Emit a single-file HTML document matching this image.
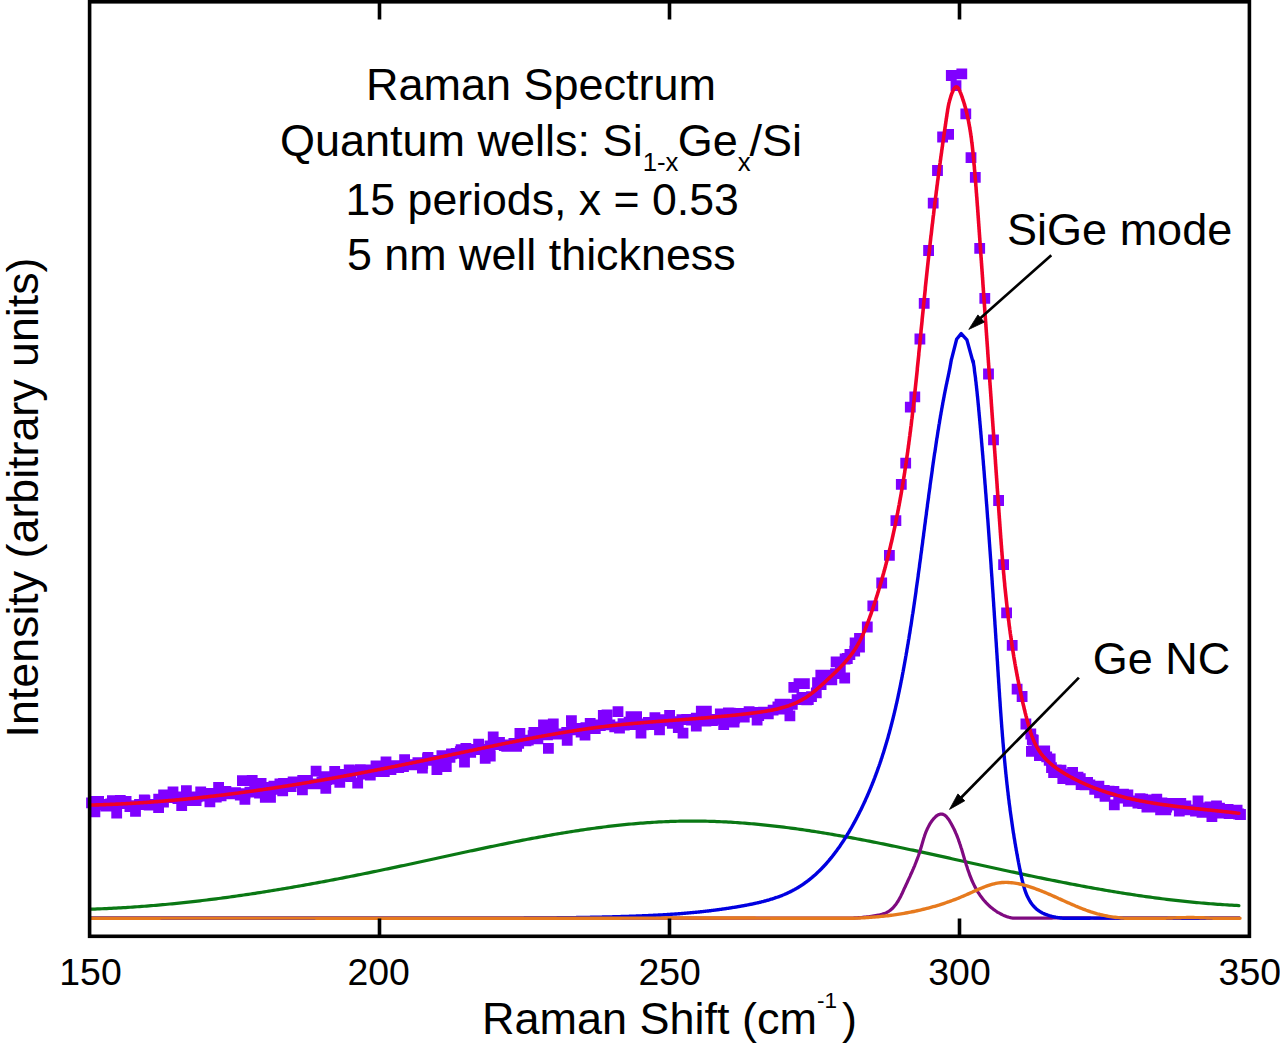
<!DOCTYPE html>
<html><head><meta charset="utf-8"><style>html,body{margin:0;padding:0;background:#fff;overflow:hidden}svg{display:block}</style></head>
<body><svg width="1280" height="1048" viewBox="0 0 1280 1048">
<rect width="1280" height="1048" fill="#fff"/>
<path fill="#8000FF" d="M86.1,797.4h10.8v10.8h-10.8zM89.5,806.5h10.8v10.8h-10.8zM90.9,796.1h10.8v10.8h-10.8zM93.2,795.9h10.8v10.8h-10.8zM95.7,799.1h10.8v10.8h-10.8zM100.5,800.8h10.8v10.8h-10.8zM105.3,798.4h10.8v10.8h-10.8zM107.0,795.2h10.8v10.8h-10.8zM110.1,798.7h10.8v10.8h-10.8zM111.3,807.7h10.8v10.8h-10.8zM114.9,795.1h10.8v10.8h-10.8zM119.7,798.2h10.8v10.8h-10.8zM120.7,795.9h10.8v10.8h-10.8zM124.5,801.1h10.8v10.8h-10.8zM129.3,800.2h10.8v10.8h-10.8zM130.1,805.9h10.8v10.8h-10.8zM134.1,799.1h10.8v10.8h-10.8zM138.9,794.4h10.8v10.8h-10.8zM139.5,795.2h10.8v10.8h-10.8zM143.7,799.6h10.8v10.8h-10.8zM148.5,798.9h10.8v10.8h-10.8zM153.2,802.1h10.8v10.8h-10.8zM153.3,793.7h10.8v10.8h-10.8zM158.1,796.6h10.8v10.8h-10.8zM158.2,789.6h10.8v10.8h-10.8zM162.9,791.9h10.8v10.8h-10.8zM167.6,786.5h10.8v10.8h-10.8zM167.7,792.2h10.8v10.8h-10.8zM172.5,793.1h10.8v10.8h-10.8zM176.3,800.2h10.8v10.8h-10.8zM177.3,791.6h10.8v10.8h-10.8zM181.0,785.2h10.8v10.8h-10.8zM182.1,795.3h10.8v10.8h-10.8zM186.9,795.2h10.8v10.8h-10.8zM190.7,795.2h10.8v10.8h-10.8zM191.7,791.4h10.8v10.8h-10.8zM195.3,786.5h10.8v10.8h-10.8zM196.5,790.7h10.8v10.8h-10.8zM201.3,788.7h10.8v10.8h-10.8zM204.5,796.5h10.8v10.8h-10.8zM206.1,788.0h10.8v10.8h-10.8zM210.9,791.8h10.8v10.8h-10.8zM213.2,782.1h10.8v10.8h-10.8zM215.7,790.5h10.8v10.8h-10.8zM220.5,786.1h10.8v10.8h-10.8zM225.3,788.4h10.8v10.8h-10.8zM230.1,787.3h10.8v10.8h-10.8zM234.9,789.8h10.8v10.8h-10.8zM237.0,775.2h10.8v10.8h-10.8zM239.5,794.0h10.8v10.8h-10.8zM239.7,788.2h10.8v10.8h-10.8zM244.5,786.7h10.8v10.8h-10.8zM246.8,775.1h10.8v10.8h-10.8zM249.3,785.7h10.8v10.8h-10.8zM254.1,787.8h10.8v10.8h-10.8zM255.7,777.9h10.8v10.8h-10.8zM258.9,787.4h10.8v10.8h-10.8zM259.9,791.9h10.8v10.8h-10.8zM263.7,782.1h10.8v10.8h-10.8zM265.1,791.9h10.8v10.8h-10.8zM268.5,780.7h10.8v10.8h-10.8zM269.0,781.6h10.8v10.8h-10.8zM273.3,783.9h10.8v10.8h-10.8zM274.5,778.4h10.8v10.8h-10.8zM277.3,785.4h10.8v10.8h-10.8zM278.1,778.0h10.8v10.8h-10.8zM282.9,779.3h10.8v10.8h-10.8zM285.7,781.2h10.8v10.8h-10.8zM287.7,776.5h10.8v10.8h-10.8zM292.5,777.5h10.8v10.8h-10.8zM297.0,784.4h10.8v10.8h-10.8zM297.3,774.9h10.8v10.8h-10.8zM301.6,775.1h10.8v10.8h-10.8zM302.1,775.7h10.8v10.8h-10.8zM306.9,778.4h10.8v10.8h-10.8zM310.7,765.7h10.8v10.8h-10.8zM311.7,778.4h10.8v10.8h-10.8zM316.5,776.7h10.8v10.8h-10.8zM318.5,771.3h10.8v10.8h-10.8zM320.4,783.0h10.8v10.8h-10.8zM321.3,774.3h10.8v10.8h-10.8zM326.1,773.8h10.8v10.8h-10.8zM329.3,766.0h10.8v10.8h-10.8zM330.9,771.2h10.8v10.8h-10.8zM334.4,776.9h10.8v10.8h-10.8zM335.7,768.9h10.8v10.8h-10.8zM340.5,769.9h10.8v10.8h-10.8zM343.8,764.5h10.8v10.8h-10.8zM345.3,771.1h10.8v10.8h-10.8zM350.1,765.5h10.8v10.8h-10.8zM352.3,777.6h10.8v10.8h-10.8zM354.9,764.3h10.8v10.8h-10.8zM357.0,767.6h10.8v10.8h-10.8zM359.7,768.7h10.8v10.8h-10.8zM364.5,764.5h10.8v10.8h-10.8zM364.9,769.7h10.8v10.8h-10.8zM369.3,766.3h10.8v10.8h-10.8zM370.6,760.4h10.8v10.8h-10.8zM374.1,765.6h10.8v10.8h-10.8zM375.7,766.0h10.8v10.8h-10.8zM378.9,766.1h10.8v10.8h-10.8zM380.6,756.6h10.8v10.8h-10.8zM383.7,761.4h10.8v10.8h-10.8zM385.6,764.1h10.8v10.8h-10.8zM388.5,760.2h10.8v10.8h-10.8zM393.3,762.3h10.8v10.8h-10.8zM398.1,761.1h10.8v10.8h-10.8zM399.2,754.3h10.8v10.8h-10.8zM402.9,759.3h10.8v10.8h-10.8zM407.7,759.5h10.8v10.8h-10.8zM412.5,757.3h10.8v10.8h-10.8zM417.0,762.7h10.8v10.8h-10.8zM417.3,758.5h10.8v10.8h-10.8zM422.1,753.2h10.8v10.8h-10.8zM422.6,751.9h10.8v10.8h-10.8zM426.9,755.0h10.8v10.8h-10.8zM431.5,764.1h10.8v10.8h-10.8zM431.7,755.5h10.8v10.8h-10.8zM436.5,750.2h10.8v10.8h-10.8zM440.9,761.3h10.8v10.8h-10.8zM441.3,751.1h10.8v10.8h-10.8zM444.6,751.9h10.8v10.8h-10.8zM446.1,748.4h10.8v10.8h-10.8zM450.9,748.0h10.8v10.8h-10.8zM454.9,746.3h10.8v10.8h-10.8zM455.7,744.3h10.8v10.8h-10.8zM459.1,756.6h10.8v10.8h-10.8zM460.5,742.9h10.8v10.8h-10.8zM465.3,747.0h10.8v10.8h-10.8zM470.1,743.9h10.8v10.8h-10.8zM473.2,738.8h10.8v10.8h-10.8zM474.9,744.1h10.8v10.8h-10.8zM479.7,743.9h10.8v10.8h-10.8zM479.8,752.9h10.8v10.8h-10.8zM484.5,740.6h10.8v10.8h-10.8zM484.9,750.6h10.8v10.8h-10.8zM487.8,731.6h10.8v10.8h-10.8zM489.3,739.2h10.8v10.8h-10.8zM494.1,736.9h10.8v10.8h-10.8zM498.9,740.3h10.8v10.8h-10.8zM501.3,741.0h10.8v10.8h-10.8zM503.7,739.5h10.8v10.8h-10.8zM508.5,737.9h10.8v10.8h-10.8zM511.2,741.0h10.8v10.8h-10.8zM513.3,737.9h10.8v10.8h-10.8zM514.5,727.9h10.8v10.8h-10.8zM518.1,735.4h10.8v10.8h-10.8zM520.6,735.4h10.8v10.8h-10.8zM522.9,734.8h10.8v10.8h-10.8zM527.7,730.3h10.8v10.8h-10.8zM528.5,726.9h10.8v10.8h-10.8zM532.5,733.5h10.8v10.8h-10.8zM537.3,729.5h10.8v10.8h-10.8zM538.1,719.4h10.8v10.8h-10.8zM542.1,729.4h10.8v10.8h-10.8zM543.0,742.9h10.8v10.8h-10.8zM546.9,727.7h10.8v10.8h-10.8zM547.9,718.5h10.8v10.8h-10.8zM551.7,728.6h10.8v10.8h-10.8zM556.5,728.4h10.8v10.8h-10.8zM561.3,727.1h10.8v10.8h-10.8zM561.8,734.9h10.8v10.8h-10.8zM566.0,715.2h10.8v10.8h-10.8zM566.1,724.5h10.8v10.8h-10.8zM570.9,723.0h10.8v10.8h-10.8zM575.7,726.7h10.8v10.8h-10.8zM579.6,729.7h10.8v10.8h-10.8zM580.5,722.2h10.8v10.8h-10.8zM584.8,718.0h10.8v10.8h-10.8zM585.3,722.5h10.8v10.8h-10.8zM589.9,723.2h10.8v10.8h-10.8zM590.1,719.4h10.8v10.8h-10.8zM594.9,720.2h10.8v10.8h-10.8zM597.9,710.1h10.8v10.8h-10.8zM599.7,718.1h10.8v10.8h-10.8zM601.6,709.4h10.8v10.8h-10.8zM604.5,719.4h10.8v10.8h-10.8zM609.3,721.4h10.8v10.8h-10.8zM612.6,706.2h10.8v10.8h-10.8zM614.1,722.7h10.8v10.8h-10.8zM617.6,718.3h10.8v10.8h-10.8zM618.9,719.8h10.8v10.8h-10.8zM623.7,716.8h10.8v10.8h-10.8zM625.6,711.3h10.8v10.8h-10.8zM628.5,719.1h10.8v10.8h-10.8zM631.2,711.3h10.8v10.8h-10.8zM633.3,718.5h10.8v10.8h-10.8zM635.6,727.7h10.8v10.8h-10.8zM638.1,719.5h10.8v10.8h-10.8zM642.9,717.0h10.8v10.8h-10.8zM647.7,719.3h10.8v10.8h-10.8zM649.5,712.2h10.8v10.8h-10.8zM652.5,715.4h10.8v10.8h-10.8zM654.1,724.4h10.8v10.8h-10.8zM657.3,714.2h10.8v10.8h-10.8zM662.1,715.4h10.8v10.8h-10.8zM664.2,709.9h10.8v10.8h-10.8zM666.9,717.9h10.8v10.8h-10.8zM671.7,716.2h10.8v10.8h-10.8zM672.9,722.1h10.8v10.8h-10.8zM676.5,714.2h10.8v10.8h-10.8zM677.6,727.7h10.8v10.8h-10.8zM681.3,713.9h10.8v10.8h-10.8zM686.1,714.6h10.8v10.8h-10.8zM686.5,714.6h10.8v10.8h-10.8zM690.9,712.8h10.8v10.8h-10.8zM690.9,720.7h10.8v10.8h-10.8zM695.7,713.1h10.8v10.8h-10.8zM695.9,705.7h10.8v10.8h-10.8zM700.5,715.7h10.8v10.8h-10.8zM701.0,705.7h10.8v10.8h-10.8zM705.3,715.0h10.8v10.8h-10.8zM707.1,715.1h10.8v10.8h-10.8zM710.1,714.0h10.8v10.8h-10.8zM714.9,708.6h10.8v10.8h-10.8zM718.3,719.3h10.8v10.8h-10.8zM719.7,711.1h10.8v10.8h-10.8zM723.0,707.6h10.8v10.8h-10.8zM724.5,709.3h10.8v10.8h-10.8zM724.9,707.7h10.8v10.8h-10.8zM728.7,716.6h10.8v10.8h-10.8zM729.3,712.6h10.8v10.8h-10.8zM734.1,707.9h10.8v10.8h-10.8zM738.9,711.7h10.8v10.8h-10.8zM743.7,706.3h10.8v10.8h-10.8zM748.5,707.0h10.8v10.8h-10.8zM751.7,714.7h10.8v10.8h-10.8zM753.3,710.1h10.8v10.8h-10.8zM756.3,707.2h10.8v10.8h-10.8zM758.1,706.8h10.8v10.8h-10.8zM762.9,708.4h10.8v10.8h-10.8zM767.7,704.7h10.8v10.8h-10.8zM772.5,701.5h10.8v10.8h-10.8zM774.6,698.8h10.8v10.8h-10.8zM777.3,703.6h10.8v10.8h-10.8zM779.3,698.8h10.8v10.8h-10.8zM782.1,700.8h10.8v10.8h-10.8zM784.5,710.5h10.8v10.8h-10.8zM786.9,699.0h10.8v10.8h-10.8zM788.4,681.9h10.8v10.8h-10.8zM791.7,694.3h10.8v10.8h-10.8zM793.6,678.2h10.8v10.8h-10.8zM796.5,691.9h10.8v10.8h-10.8zM799.0,678.2h10.8v10.8h-10.8zM801.3,694.5h10.8v10.8h-10.8zM802.9,694.1h10.8v10.8h-10.8zM806.1,691.3h10.8v10.8h-10.8zM810.9,687.5h10.8v10.8h-10.8zM812.1,677.3h10.8v10.8h-10.8zM815.4,669.8h10.8v10.8h-10.8zM815.7,679.1h10.8v10.8h-10.8zM820.5,672.5h10.8v10.8h-10.8zM821.0,669.8h10.8v10.8h-10.8zM825.3,671.6h10.8v10.8h-10.8zM826.4,674.4h10.8v10.8h-10.8zM830.1,668.3h10.8v10.8h-10.8zM830.7,656.5h10.8v10.8h-10.8zM834.9,662.9h10.8v10.8h-10.8zM839.3,672.6h10.8v10.8h-10.8zM839.7,653.6h10.8v10.8h-10.8zM841.9,653.1h10.8v10.8h-10.8zM844.5,649.1h10.8v10.8h-10.8zM849.3,645.8h10.8v10.8h-10.8zM849.7,637.4h10.8v10.8h-10.8zM854.1,633.1h10.8v10.8h-10.8zM854.1,641.7h10.8v10.8h-10.8zM861.9,621.6h10.8v10.8h-10.8zM867.4,600.5h10.8v10.8h-10.8zM876.3,577.6h10.8v10.8h-10.8zM884.0,549.9h10.8v10.8h-10.8zM890.5,515.2h10.8v10.8h-10.8zM895.9,478.9h10.8v10.8h-10.8zM900.3,457.7h10.8v10.8h-10.8zM904.9,401.7h10.8v10.8h-10.8zM909.4,391.4h10.8v10.8h-10.8zM914.5,333.6h10.8v10.8h-10.8zM918.8,297.9h10.8v10.8h-10.8zM923.2,245.1h10.8v10.8h-10.8zM927.8,197.7h10.8v10.8h-10.8zM932.1,165.1h10.8v10.8h-10.8zM937.2,131.6h10.8v10.8h-10.8zM943.2,129.0h10.8v10.8h-10.8zM945.9,70.1h10.8v10.8h-10.8zM950.6,80.3h10.8v10.8h-10.8zM956.4,68.4h10.8v10.8h-10.8zM960.4,108.4h10.8v10.8h-10.8zM965.6,152.2h10.8v10.8h-10.8zM969.9,172.0h10.8v10.8h-10.8zM974.3,243.0h10.8v10.8h-10.8zM979.4,292.9h10.8v10.8h-10.8zM983.1,368.6h10.8v10.8h-10.8zM988.1,434.5h10.8v10.8h-10.8zM993.2,495.1h10.8v10.8h-10.8zM998.2,559.2h10.8v10.8h-10.8zM1001.2,607.4h10.8v10.8h-10.8zM1006.8,639.9h10.8v10.8h-10.8zM1011.7,683.8h10.8v10.8h-10.8zM1016.7,691.1h10.8v10.8h-10.8zM1020.5,718.6h10.8v10.8h-10.8zM1025.4,728.6h10.8v10.8h-10.8zM1026.0,746.0h10.8v10.8h-10.8zM1026.9,734.2h10.8v10.8h-10.8zM1027.9,734.8h10.8v10.8h-10.8zM1031.7,745.6h10.8v10.8h-10.8zM1034.0,750.2h10.8v10.8h-10.8zM1036.5,747.5h10.8v10.8h-10.8zM1039.3,745.5h10.8v10.8h-10.8zM1041.3,751.5h10.8v10.8h-10.8zM1043.8,754.9h10.8v10.8h-10.8zM1044.8,753.5h10.8v10.8h-10.8zM1046.1,762.3h10.8v10.8h-10.8zM1048.2,767.1h10.8v10.8h-10.8zM1050.9,764.5h10.8v10.8h-10.8zM1055.5,764.7h10.8v10.8h-10.8zM1055.7,765.6h10.8v10.8h-10.8zM1057.4,773.2h10.8v10.8h-10.8zM1060.5,768.7h10.8v10.8h-10.8zM1065.3,774.5h10.8v10.8h-10.8zM1067.2,767.1h10.8v10.8h-10.8zM1070.1,773.1h10.8v10.8h-10.8zM1072.6,771.8h10.8v10.8h-10.8zM1074.9,773.3h10.8v10.8h-10.8zM1075.7,779.3h10.8v10.8h-10.8zM1079.7,779.5h10.8v10.8h-10.8zM1082.2,776.9h10.8v10.8h-10.8zM1084.5,779.4h10.8v10.8h-10.8zM1089.3,783.9h10.8v10.8h-10.8zM1093.5,780.7h10.8v10.8h-10.8zM1094.1,787.5h10.8v10.8h-10.8zM1098.9,785.1h10.8v10.8h-10.8zM1099.6,791.0h10.8v10.8h-10.8zM1103.7,785.8h10.8v10.8h-10.8zM1104.7,786.3h10.8v10.8h-10.8zM1108.5,785.9h10.8v10.8h-10.8zM1108.9,799.4h10.8v10.8h-10.8zM1113.3,792.7h10.8v10.8h-10.8zM1118.1,788.7h10.8v10.8h-10.8zM1122.5,789.6h10.8v10.8h-10.8zM1122.9,796.0h10.8v10.8h-10.8zM1123.0,795.7h10.8v10.8h-10.8zM1127.7,795.4h10.8v10.8h-10.8zM1132.5,797.8h10.8v10.8h-10.8zM1134.7,793.3h10.8v10.8h-10.8zM1137.2,793.7h10.8v10.8h-10.8zM1137.3,798.1h10.8v10.8h-10.8zM1141.5,801.8h10.8v10.8h-10.8zM1142.1,794.6h10.8v10.8h-10.8zM1146.9,795.3h10.8v10.8h-10.8zM1151.4,793.7h10.8v10.8h-10.8zM1151.7,801.6h10.8v10.8h-10.8zM1155.2,804.4h10.8v10.8h-10.8zM1156.5,797.6h10.8v10.8h-10.8zM1160.4,804.4h10.8v10.8h-10.8zM1161.3,801.8h10.8v10.8h-10.8zM1164.7,798.0h10.8v10.8h-10.8zM1166.1,798.1h10.8v10.8h-10.8zM1170.9,799.6h10.8v10.8h-10.8zM1173.9,805.7h10.8v10.8h-10.8zM1175.4,798.0h10.8v10.8h-10.8zM1175.7,802.8h10.8v10.8h-10.8zM1180.5,800.4h10.8v10.8h-10.8zM1183.6,804.4h10.8v10.8h-10.8zM1185.3,804.4h10.8v10.8h-10.8zM1190.1,805.8h10.8v10.8h-10.8zM1192.6,795.4h10.8v10.8h-10.8zM1194.9,802.4h10.8v10.8h-10.8zM1196.6,807.0h10.8v10.8h-10.8zM1199.7,802.8h10.8v10.8h-10.8zM1204.5,801.4h10.8v10.8h-10.8zM1206.5,811.3h10.8v10.8h-10.8zM1209.3,804.6h10.8v10.8h-10.8zM1211.1,800.5h10.8v10.8h-10.8zM1214.1,802.7h10.8v10.8h-10.8zM1216.2,807.8h10.8v10.8h-10.8zM1218.9,806.7h10.8v10.8h-10.8zM1222.7,804.0h10.8v10.8h-10.8zM1223.7,808.1h10.8v10.8h-10.8zM1228.5,807.8h10.8v10.8h-10.8zM1231.7,804.8h10.8v10.8h-10.8zM1233.3,808.6h10.8v10.8h-10.8zM1235.1,809.1h10.8v10.8h-10.8z"/>
<path d="M90.4,805.07 L91.3,805.05 L92.3,805.02 L93.2,805.00 L94.2,804.97 L95.1,804.94 L96.1,804.92 L97.0,804.89 L97.9,804.86 L98.9,804.83 L99.8,804.80 L100.8,804.77 L101.7,804.74 L102.7,804.70 L103.6,804.67 L104.6,804.64 L105.5,804.60 L106.4,804.56 L107.4,804.53 L108.3,804.49 L109.3,804.45 L110.2,804.41 L111.2,804.38 L112.1,804.34 L113.0,804.29 L114.0,804.25 L114.9,804.21 L115.9,804.17 L116.8,804.12 L117.8,804.08 L118.7,804.03 L119.6,803.99 L120.6,803.94 L121.5,803.89 L122.5,803.85 L123.4,803.80 L124.4,803.75 L125.3,803.70 L126.2,803.65 L127.2,803.60 L128.1,803.54 L129.1,803.49 L130.0,803.44 L130.9,803.38 L131.9,803.33 L132.8,803.27 L133.8,803.22 L134.7,803.16 L135.7,803.10 L136.6,803.04 L137.5,802.98 L138.5,802.92 L139.4,802.86 L140.4,802.80 L141.3,802.74 L142.2,802.68 L143.2,802.62 L144.1,802.55 L145.1,802.49 L146.0,802.42 L146.9,802.36 L147.9,802.29 L148.8,802.22 L149.8,802.16 L150.7,802.09 L151.6,802.02 L152.6,801.95 L153.5,801.88 L154.4,801.81 L155.4,801.74 L156.3,801.66 L157.3,801.59 L158.2,801.52 L159.1,801.44 L160.1,801.37 L161.0,801.29 L162.0,801.22 L162.9,801.14 L163.8,801.06 L164.8,800.98 L165.7,800.90 L166.6,800.82 L167.6,800.74 L168.5,800.66 L169.5,800.58 L170.4,800.50 L171.3,800.42 L172.3,800.34 L173.2,800.25 L174.1,800.17 L175.1,800.08 L176.0,800.00 L177.0,799.91 L177.9,799.82 L178.8,799.74 L179.8,799.65 L180.7,799.56 L181.6,799.47 L182.6,799.38 L183.5,799.29 L184.4,799.20 L185.4,799.11 L186.3,799.02 L187.2,798.92 L188.2,798.83 L189.1,798.74 L190.1,798.64 L191.0,798.55 L191.9,798.45 L192.9,798.35 L193.8,798.26 L194.7,798.16 L195.7,798.06 L196.6,797.96 L197.5,797.86 L198.5,797.76 L199.4,797.66 L200.3,797.56 L201.3,797.46 L202.2,797.36 L203.1,797.26 L204.1,797.15 L205.0,797.05 L205.9,796.94 L206.9,796.84 L207.8,796.73 L208.7,796.63 L209.7,796.52 L210.6,796.41 L211.5,796.31 L212.5,796.20 L213.4,796.09 L214.3,795.98 L215.3,795.87 L216.2,795.76 L217.1,795.65 L218.1,795.54 L219.0,795.43 L219.9,795.31 L220.9,795.20 L221.8,795.09 L222.7,794.97 L223.7,794.86 L224.6,794.74 L225.5,794.63 L226.5,794.51 L227.4,794.39 L228.3,794.28 L229.3,794.16 L230.2,794.04 L231.1,793.92 L232.1,793.80 L233.0,793.68 L233.9,793.56 L234.9,793.44 L235.8,793.32 L236.7,793.20 L237.7,793.08 L238.6,792.95 L239.5,792.83 L240.4,792.71 L241.4,792.58 L242.3,792.46 L243.2,792.33 L244.2,792.20 L245.1,792.08 L246.0,791.95 L247.0,791.82 L247.9,791.70 L248.8,791.57 L249.8,791.44 L250.7,791.31 L251.6,791.18 L252.5,791.05 L253.5,790.92 L254.4,790.79 L255.3,790.66 L256.3,790.52 L257.2,790.39 L258.1,790.26 L259.1,790.12 L260.0,789.99 L260.9,789.86 L261.8,789.72 L262.8,789.59 L263.7,789.45 L264.6,789.31 L265.6,789.18 L266.5,789.04 L267.4,788.90 L268.3,788.76 L269.3,788.63 L270.2,788.49 L271.1,788.35 L272.1,788.21 L273.0,788.07 L273.9,787.93 L274.8,787.78 L275.8,787.64 L276.7,787.50 L277.6,787.36 L278.6,787.22 L279.5,787.07 L280.4,786.93 L281.3,786.78 L282.3,786.64 L283.2,786.49 L284.1,786.35 L285.1,786.20 L286.0,786.06 L286.9,785.91 L287.8,785.76 L288.8,785.61 L289.7,785.47 L290.6,785.32 L291.6,785.17 L292.5,785.02 L293.4,784.87 L294.3,784.72 L295.3,784.57 L296.2,784.42 L297.1,784.27 L298.0,784.12 L299.0,783.96 L299.9,783.81 L300.8,783.66 L301.8,783.51 L302.7,783.35 L303.6,783.20 L304.5,783.04 L305.5,782.89 L306.4,782.73 L307.3,782.58 L308.2,782.42 L309.2,782.27 L310.1,782.11 L311.0,781.95 L312.0,781.79 L312.9,781.64 L313.8,781.48 L314.7,781.32 L315.7,781.16 L316.6,781.00 L317.5,780.84 L318.4,780.68 L319.4,780.52 L320.3,780.36 L321.2,780.20 L322.1,780.04 L323.1,779.88 L324.0,779.71 L324.9,779.55 L325.8,779.39 L326.8,779.23 L327.7,779.06 L328.6,778.90 L329.5,778.73 L330.5,778.57 L331.4,778.41 L332.3,778.24 L333.2,778.07 L334.2,777.91 L335.1,777.74 L336.0,777.58 L336.9,777.41 L337.9,777.24 L338.8,777.07 L339.7,776.91 L340.6,776.74 L341.6,776.57 L342.5,776.40 L343.4,776.23 L344.3,776.06 L345.3,775.89 L346.2,775.72 L347.1,775.55 L348.0,775.38 L349.0,775.21 L349.9,775.04 L350.8,774.87 L351.7,774.70 L352.7,774.52 L353.6,774.35 L354.5,774.18 L355.4,774.01 L356.4,773.83 L357.3,773.66 L358.2,773.48 L359.1,773.31 L360.1,773.14 L361.0,772.96 L361.9,772.79 L362.8,772.61 L363.8,772.43 L364.7,772.26 L365.6,772.08 L366.5,771.91 L367.5,771.73 L368.4,771.55 L369.3,771.37 L370.2,771.20 L371.2,771.02 L372.1,770.84 L373.0,770.66 L373.9,770.48 L374.8,770.31 L375.8,770.13 L376.7,769.95 L377.6,769.77 L378.5,769.59 L379.5,769.41 L380.4,769.23 L381.3,769.05 L382.2,768.86 L383.2,768.68 L384.1,768.50 L385.0,768.32 L385.9,768.14 L386.8,767.96 L387.8,767.77 L388.7,767.59 L389.6,767.41 L390.5,767.23 L391.5,767.04 L392.4,766.86 L393.3,766.67 L394.2,766.49 L395.2,766.31 L396.1,766.12 L397.0,765.94 L397.9,765.75 L398.8,765.57 L399.8,765.38 L400.7,765.20 L401.6,765.01 L402.5,764.83 L403.5,764.64 L404.4,764.45 L405.3,764.27 L406.2,764.08 L407.2,763.89 L408.1,763.71 L409.0,763.52 L409.9,763.33 L410.8,763.14 L411.8,762.95 L412.7,762.77 L413.6,762.58 L414.5,762.39 L415.5,762.20 L416.4,762.01 L417.3,761.82 L418.2,761.63 L419.1,761.44 L420.1,761.25 L421.0,761.06 L421.9,760.87 L422.8,760.68 L423.8,760.49 L424.7,760.30 L425.6,760.11 L426.5,759.92 L427.4,759.73 L428.4,759.54 L429.3,759.35 L430.2,759.16 L431.1,758.97 L432.1,758.77 L433.0,758.58 L433.9,758.39 L434.8,758.20 L435.7,758.00 L436.7,757.81 L437.6,757.62 L438.5,757.43 L439.4,757.23 L440.4,757.04 L441.3,756.85 L442.2,756.65 L443.1,756.46 L444.0,756.27 L445.0,756.07 L445.9,755.88 L446.8,755.68 L447.7,755.49 L448.6,755.30 L449.6,755.10 L450.5,754.91 L451.4,754.71 L452.3,754.52 L453.3,754.32 L454.2,754.13 L455.1,753.93 L456.0,753.74 L456.9,753.54 L457.9,753.35 L458.8,753.15 L459.7,752.96 L460.6,752.76 L461.6,752.56 L462.5,752.37 L463.4,752.17 L464.3,751.98 L465.2,751.78 L466.2,751.59 L467.1,751.39 L468.0,751.20 L468.9,751.00 L469.8,750.81 L470.8,750.61 L471.7,750.41 L472.6,750.22 L473.5,750.02 L474.5,749.83 L475.4,749.63 L476.3,749.44 L477.2,749.24 L478.1,749.05 L479.1,748.85 L480.0,748.66 L480.9,748.47 L481.8,748.27 L482.8,748.08 L483.7,747.88 L484.6,747.69 L485.5,747.50 L486.4,747.30 L487.4,747.11 L488.3,746.92 L489.2,746.72 L490.1,746.53 L491.0,746.34 L492.0,746.14 L492.9,745.95 L493.8,745.76 L494.7,745.57 L495.7,745.38 L496.6,745.19 L497.5,745.00 L498.4,744.80 L499.3,744.61 L500.3,744.42 L501.2,744.23 L502.1,744.04 L503.0,743.85 L504.0,743.67 L504.9,743.48 L505.8,743.29 L506.7,743.10 L507.7,742.91 L508.6,742.72 L509.5,742.54 L510.4,742.35 L511.3,742.16 L512.3,741.98 L513.2,741.79 L514.1,741.61 L515.0,741.42 L516.0,741.24 L516.9,741.05 L517.8,740.87 L518.7,740.69 L519.6,740.50 L520.6,740.32 L521.5,740.14 L522.4,739.96 L523.3,739.78 L524.3,739.60 L525.2,739.42 L526.1,739.24 L527.0,739.06 L528.0,738.88 L528.9,738.70 L529.8,738.52 L530.7,738.34 L531.7,738.17 L532.6,737.99 L533.5,737.82 L534.4,737.64 L535.4,737.47 L536.3,737.29 L537.2,737.12 L538.1,736.95 L539.1,736.77 L540.0,736.60 L540.9,736.43 L541.8,736.26 L542.7,736.09 L543.7,735.92 L544.6,735.75 L545.5,735.58 L546.4,735.42 L547.4,735.25 L548.3,735.08 L549.2,734.92 L550.2,734.75 L551.1,734.59 L552.0,734.42 L552.9,734.26 L553.9,734.10 L554.8,733.94 L555.7,733.78 L556.6,733.62 L557.6,733.46 L558.5,733.30 L559.4,733.14 L560.3,732.98 L561.3,732.83 L562.2,732.67 L563.1,732.52 L564.0,732.36 L565.0,732.21 L565.9,732.06 L566.8,731.90 L567.7,731.75 L568.7,731.60 L569.6,731.45 L570.5,731.30 L571.5,731.16 L572.4,731.01 L573.3,730.86 L574.2,730.72 L575.2,730.57 L576.1,730.43 L577.0,730.29 L578.0,730.14 L578.9,730.00 L579.8,729.86 L580.7,729.72 L581.7,729.59 L582.6,729.45 L583.5,729.31 L584.5,729.18 L585.4,729.04 L586.3,728.91 L587.2,728.77 L588.2,728.64 L589.1,728.51 L590.0,728.38 L591.0,728.25 L591.9,728.13 L592.8,728.00 L593.7,727.87 L594.7,727.75 L595.6,727.62 L596.5,727.50 L597.5,727.38 L598.4,727.26 L599.3,727.14 L600.3,727.02 L601.2,726.90 L602.1,726.78 L603.1,726.67 L604.0,726.55 L604.9,726.44 L605.8,726.33 L606.8,726.22 L607.7,726.11 L608.6,726.00 L609.6,725.89 L610.5,725.78 L611.4,725.68 L612.4,725.57 L613.3,725.47 L614.2,725.37 L615.2,725.26 L616.1,725.16 L617.0,725.06 L618.0,724.96 L618.9,724.87 L619.8,724.77 L620.8,724.67 L621.7,724.58 L622.6,724.48 L623.6,724.39 L624.5,724.30 L625.4,724.21 L626.4,724.12 L627.3,724.03 L628.2,723.94 L629.2,723.85 L630.1,723.76 L631.0,723.67 L632.0,723.59 L632.9,723.50 L633.8,723.42 L634.8,723.33 L635.7,723.25 L636.7,723.17 L637.6,723.09 L638.5,723.00 L639.5,722.92 L640.4,722.84 L641.3,722.76 L642.3,722.68 L643.2,722.60 L644.1,722.53 L645.1,722.45 L646.0,722.37 L646.9,722.30 L647.9,722.22 L648.8,722.14 L649.8,722.07 L650.7,721.99 L651.6,721.92 L652.6,721.85 L653.5,721.77 L654.4,721.70 L655.4,721.63 L656.3,721.55 L657.3,721.48 L658.2,721.41 L659.1,721.34 L660.1,721.27 L661.0,721.20 L661.9,721.12 L662.9,721.05 L663.8,720.98 L664.8,720.91 L665.7,720.84 L666.6,720.77 L667.6,720.70 L668.5,720.63 L669.4,720.56 L670.4,720.50 L671.3,720.43 L672.3,720.36 L673.2,720.29 L674.1,720.22 L675.1,720.15 L676.0,720.08 L677.0,720.01 L677.9,719.94 L678.8,719.87 L679.8,719.80 L680.7,719.74 L681.6,719.67 L682.6,719.60 L683.5,719.53 L684.5,719.46 L685.4,719.39 L686.3,719.32 L687.3,719.25 L688.2,719.18 L689.2,719.11 L690.1,719.04 L691.0,718.97 L692.0,718.89 L692.9,718.82 L693.9,718.75 L694.8,718.68 L695.7,718.61 L696.7,718.54 L697.6,718.46 L698.6,718.39 L699.5,718.32 L700.4,718.24 L701.4,718.17 L702.3,718.09 L703.3,718.02 L704.2,717.94 L705.1,717.86 L706.1,717.79 L707.0,717.71 L708.0,717.63 L708.9,717.56 L709.8,717.48 L710.8,717.40 L711.7,717.32 L712.7,717.24 L713.6,717.16 L714.5,717.07 L715.5,716.99 L716.4,716.91 L717.4,716.83 L718.3,716.74 L719.2,716.66 L720.2,716.57 L721.1,716.49 L722.1,716.40 L723.0,716.31 L723.9,716.22 L724.9,716.13 L725.8,716.04 L726.8,715.95 L727.7,715.86 L728.6,715.77 L729.6,715.67 L730.5,715.58 L731.5,715.48 L732.4,715.39 L733.4,715.29 L734.3,715.19 L735.2,715.09 L736.2,714.99 L737.1,714.89 L738.1,714.79 L739.0,714.69 L739.9,714.58 L740.9,714.48 L741.8,714.37 L742.8,714.27 L743.7,714.16 L744.6,714.05 L745.6,713.94 L746.5,713.83 L747.5,713.71 L748.4,713.60 L749.3,713.49 L750.3,713.37 L751.2,713.25 L752.2,713.13 L753.1,713.01 L754.0,712.89 L755.0,712.77 L755.9,712.65 L756.9,712.52 L757.8,712.39 L758.7,712.26 L759.7,712.13 L760.6,711.99 L761.6,711.86 L762.5,711.72 L763.4,711.57 L764.4,711.43 L765.3,711.28 L766.2,711.12 L767.2,710.97 L768.1,710.81 L769.0,710.64 L769.9,710.47 L770.9,710.30 L771.8,710.12 L772.7,709.94 L773.6,709.75 L774.5,709.55 L775.5,709.36 L776.4,709.15 L777.3,708.94 L778.2,708.73 L779.1,708.50 L780.0,708.28 L780.9,708.04 L781.8,707.80 L782.7,707.55 L783.6,707.30 L784.5,707.04 L785.4,706.77 L786.2,706.49 L787.1,706.21 L788.0,705.92 L788.9,705.62 L789.7,705.31 L790.6,704.99 L791.5,704.67 L792.3,704.34 L793.2,704.00 L794.0,703.64 L794.9,703.28 L795.7,702.91 L796.6,702.54 L797.4,702.15 L798.2,701.75 L799.0,701.34 L799.9,700.92 L800.7,700.49 L801.5,700.05 L802.3,699.60 L803.1,699.14 L803.9,698.66 L804.7,698.18 L805.5,697.69 L806.3,697.18 L807.0,696.67 L807.8,696.14 L808.6,695.61 L809.3,695.07 L810.1,694.52 L810.9,693.96 L811.6,693.40 L812.4,692.82 L813.1,692.24 L813.8,691.66 L814.6,691.06 L815.3,690.46 L816.1,689.86 L816.8,689.24 L817.5,688.63 L818.2,688.01 L819.0,687.38 L819.7,686.75 L820.4,686.12 L821.1,685.48 L821.8,684.84 L822.5,684.19 L823.3,683.55 L824.0,682.90 L824.7,682.25 L825.4,681.60 L826.1,680.94 L826.8,680.29 L827.5,679.63 L828.2,678.98 L828.9,678.32 L829.6,677.67 L830.3,677.01 L831.0,676.35 L831.7,675.69 L832.4,675.03 L833.1,674.37 L833.8,673.71 L834.5,673.05 L835.2,672.38 L835.9,671.72 L836.5,671.05 L837.2,670.38 L837.9,669.71 L838.6,669.03 L839.2,668.36 L839.9,667.68 L840.6,667.00 L841.2,666.32 L841.9,665.63 L842.5,664.94 L843.2,664.25 L843.8,663.55 L844.4,662.86 L845.1,662.16 L845.7,661.45 L846.3,660.74 L846.9,660.03 L847.5,659.32 L848.1,658.60 L848.7,657.87 L849.3,657.15 L849.9,656.41 L850.5,655.68 L851.0,654.94 L851.6,654.19 L852.1,653.44 L852.7,652.69 L853.2,651.93 L853.7,651.16 L854.3,650.39 L854.8,649.62 L855.3,648.84 L855.8,648.05 L856.3,647.26 L856.7,646.46 L857.2,645.66 L857.7,644.86 L858.1,644.05 L858.6,643.24 L859.0,642.42 L859.5,641.60 L859.9,640.77 L860.3,639.94 L860.8,639.11 L861.2,638.27 L861.6,637.43 L862.0,636.59 L862.4,635.74 L862.8,634.89 L863.2,634.03 L863.5,633.18 L863.9,632.32 L864.3,631.46 L864.7,630.59 L865.0,629.72 L865.4,628.85 L865.7,627.98 L866.1,627.11 L866.4,626.23 L866.8,625.35 L867.1,624.47 L867.4,623.59 L867.8,622.71 L868.1,621.83 L868.4,620.94 L868.8,620.05 L869.1,619.16 L869.4,618.28 L869.7,617.39 L870.0,616.50 L870.4,615.60 L870.7,614.71 L871.0,613.82 L871.3,612.93 L871.6,612.04 L871.9,611.14 L872.2,610.25 L872.5,609.35 L872.8,608.46 L873.1,607.57 L873.4,606.67 L873.7,605.78 L874.0,604.88 L874.3,603.99 L874.6,603.09 L874.9,602.19 L875.2,601.30 L875.5,600.40 L875.8,599.50 L876.0,598.61 L876.3,597.71 L876.6,596.81 L876.9,595.91 L877.2,595.01 L877.5,594.11 L877.7,593.22 L878.0,592.32 L878.3,591.42 L878.6,590.52 L878.8,589.62 L879.1,588.72 L879.4,587.81 L879.6,586.91 L879.9,586.01 L880.2,585.11 L880.4,584.21 L880.7,583.31 L881.0,582.40 L881.2,581.50 L881.5,580.60 L881.8,579.69 L882.0,578.79 L882.3,577.88 L882.5,576.98 L882.8,576.08 L883.0,575.17 L883.3,574.27 L883.5,573.36 L883.8,572.45 L884.0,571.55 L884.3,570.64 L884.5,569.74 L884.8,568.83 L885.0,567.92 L885.3,567.02 L885.5,566.11 L885.7,565.20 L886.0,564.29 L886.2,563.38 L886.4,562.47 L886.7,561.57 L886.9,560.66 L887.1,559.75 L887.4,558.84 L887.6,557.93 L887.8,557.02 L888.1,556.11 L888.3,555.20 L888.5,554.29 L888.7,553.38 L889.0,552.46 L889.2,551.55 L889.4,550.64 L889.6,549.73 L889.8,548.82 L890.1,547.90 L890.3,546.99 L890.5,546.08 L890.7,545.16 L890.9,544.25 L891.1,543.34 L891.4,542.42 L891.6,541.51 L891.8,540.59 L892.0,539.68 L892.2,538.76 L892.4,537.85 L892.6,536.93 L892.8,536.02 L893.0,535.10 L893.2,534.19 L893.4,533.27 L893.6,532.35 L893.8,531.44 L894.0,530.52 L894.2,529.60 L894.4,528.69 L894.6,527.77 L894.8,526.85 L895.0,525.93 L895.2,525.01 L895.4,524.10 L895.6,523.18 L895.7,522.26 L895.9,521.34 L896.1,520.42 L896.3,519.50 L896.5,518.58 L896.7,517.66 L896.9,516.74 L897.0,515.82 L897.2,514.90 L897.4,513.98 L897.6,513.06 L897.8,512.14 L897.9,511.22 L898.1,510.29 L898.3,509.37 L898.5,508.45 L898.6,507.53 L898.8,506.61 L899.0,505.68 L899.2,504.76 L899.3,503.84 L899.5,502.92 L899.7,501.99 L899.8,501.07 L900.0,500.15 L900.2,499.22 L900.3,498.30 L900.5,497.37 L900.7,496.45 L900.8,495.52 L901.0,494.60 L901.2,493.68 L901.3,492.75 L901.5,491.83 L901.6,490.90 L901.8,489.97 L901.9,489.05 L902.1,488.12 L902.3,487.20 L902.4,486.27 L902.6,485.34 L902.7,484.42 L902.9,483.49 L903.0,482.56 L903.2,481.64 L903.3,480.71 L903.5,479.78 L903.6,478.85 L903.8,477.93 L903.9,477.00 L904.1,476.07 L904.2,475.14 L904.4,474.22 L904.5,473.29 L904.7,472.36 L904.8,471.43 L904.9,470.50 L905.1,469.57 L905.2,468.64 L905.4,467.71 L905.5,466.78 L905.6,465.85 L905.8,464.92 L905.9,463.99 L906.1,463.06 L906.2,462.13 L906.3,461.20 L906.5,460.27 L906.6,459.34 L906.7,458.41 L906.9,457.48 L907.0,456.55 L907.1,455.62 L907.3,454.69 L907.4,453.76 L907.5,452.82 L907.7,451.89 L907.8,450.96 L907.9,450.03 L908.0,449.10 L908.2,448.17 L908.3,447.23 L908.4,446.30 L908.5,445.37 L908.7,444.44 L908.8,443.50 L908.9,442.57 L909.0,441.64 L909.2,440.70 L909.3,439.77 L909.4,438.84 L909.5,437.90 L909.6,436.97 L909.8,436.04 L909.9,435.10 L910.0,434.17 L910.1,433.24 L910.2,432.30 L910.4,431.37 L910.5,430.43 L910.6,429.50 L910.7,428.56 L910.8,427.63 L910.9,426.70 L911.1,425.76 L911.2,424.83 L911.3,423.89 L911.4,422.96 L911.5,422.02 L911.6,421.09 L911.7,420.15 L911.8,419.21 L912.0,418.28 L912.1,417.34 L912.2,416.41 L912.3,415.47 L912.4,414.54 L912.5,413.60 L912.6,412.66 L912.7,411.73 L912.8,410.79 L912.9,409.86 L913.0,408.92 L913.1,407.98 L913.3,407.05 L913.4,406.11 L913.5,405.17 L913.6,404.24 L913.7,403.30 L913.8,402.36 L913.9,401.43 L914.0,400.49 L914.1,399.55 L914.2,398.62 L914.3,397.68 L914.4,396.74 L914.5,395.80 L914.6,394.87 L914.7,393.93 L914.8,392.99 L914.9,392.06 L915.0,391.12 L915.1,390.18 L915.2,389.24 L915.3,388.30 L915.4,387.37 L915.5,386.43 L915.6,385.49 L915.7,384.55 L915.8,383.62 L915.9,382.68 L916.0,381.74 L916.1,380.80 L916.2,379.86 L916.3,378.93 L916.4,377.99 L916.5,377.05 L916.6,376.11 L916.7,375.17 L916.8,374.23 L916.9,373.30 L917.0,372.36 L917.1,371.42 L917.2,370.48 L917.3,369.54 L917.3,368.60 L917.4,367.66 L917.5,366.73 L917.6,365.79 L917.7,364.85 L917.8,363.91 L917.9,362.97 L918.0,362.03 L918.1,361.09 L918.2,360.15 L918.3,359.22 L918.4,358.28 L918.5,357.34 L918.6,356.40 L918.7,355.46 L918.8,354.52 L918.8,353.58 L918.9,352.64 L919.0,351.71 L919.1,350.77 L919.2,349.83 L919.3,348.89 L919.4,347.95 L919.5,347.01 L919.6,346.07 L919.7,345.13 L919.8,344.19 L919.9,343.25 L919.9,342.32 L920.0,341.38 L920.1,340.44 L920.2,339.50 L920.3,338.56 L920.4,337.62 L920.5,336.68 L920.6,335.74 L920.7,334.80 L920.8,333.87 L920.9,332.93 L921.0,331.99 L921.0,331.05 L921.1,330.11 L921.2,329.17 L921.3,328.23 L921.4,327.29 L921.5,326.36 L921.6,325.42 L921.7,324.48 L921.8,323.54 L921.9,322.60 L922.0,321.66 L922.1,320.72 L922.1,319.78 L922.2,318.85 L922.3,317.91 L922.4,316.97 L922.5,316.03 L922.6,315.09 L922.7,314.15 L922.8,313.22 L922.9,312.28 L923.0,311.34 L923.1,310.40 L923.2,309.46 L923.3,308.52 L923.4,307.59 L923.4,306.65 L923.5,305.71 L923.6,304.77 L923.7,303.83 L923.8,302.90 L923.9,301.96 L924.0,301.02 L924.1,300.08 L924.2,299.14 L924.3,298.21 L924.4,297.27 L924.5,296.33 L924.6,295.39 L924.7,294.46 L924.8,293.52 L924.9,292.58 L925.0,291.64 L925.1,290.71 L925.2,289.77 L925.3,288.83 L925.3,287.90 L925.4,286.96 L925.5,286.02 L925.6,285.08 L925.7,284.15 L925.8,283.21 L925.9,282.27 L926.0,281.34 L926.1,280.40 L926.2,279.46 L926.3,278.53 L926.4,277.59 L926.5,276.66 L926.6,275.72 L926.7,274.78 L926.8,273.85 L926.9,272.91 L927.0,271.97 L927.1,271.04 L927.2,270.10 L927.3,269.17 L927.4,268.23 L927.5,267.29 L927.6,266.36 L927.7,265.42 L927.8,264.49 L927.9,263.55 L928.0,262.62 L928.1,261.68 L928.2,260.75 L928.3,259.81 L928.4,258.88 L928.5,257.94 L928.6,257.01 L928.7,256.07 L928.8,255.14 L928.9,254.20 L929.0,253.27 L929.2,252.33 L929.3,251.40 L929.4,250.46 L929.5,249.53 L929.6,248.59 L929.7,247.66 L929.8,246.73 L929.9,245.79 L930.0,244.86 L930.1,243.92 L930.2,242.99 L930.3,242.06 L930.4,241.12 L930.5,240.19 L930.6,239.26 L930.7,238.32 L930.8,237.39 L930.9,236.46 L931.0,235.52 L931.2,234.59 L931.3,233.66 L931.4,232.72 L931.5,231.79 L931.6,230.86 L931.7,229.92 L931.8,228.99 L931.9,228.06 L932.0,227.13 L932.1,226.19 L932.2,225.26 L932.3,224.33 L932.5,223.40 L932.6,222.47 L932.7,221.53 L932.8,220.60 L932.9,219.67 L933.0,218.74 L933.1,217.81 L933.2,216.88 L933.3,215.94 L933.5,215.01 L933.6,214.08 L933.7,213.15 L933.8,212.22 L933.9,211.29 L934.0,210.36 L934.1,209.43 L934.2,208.50 L934.4,207.57 L934.5,206.64 L934.6,205.71 L934.7,204.78 L934.8,203.84 L934.9,202.91 L935.0,201.98 L935.2,201.06 L935.3,200.13 L935.4,199.20 L935.5,198.27 L935.6,197.34 L935.7,196.41 L935.9,195.48 L936.0,194.55 L936.1,193.62 L936.2,192.69 L936.3,191.76 L936.4,190.83 L936.6,189.90 L936.7,188.98 L936.8,188.05 L936.9,187.12 L937.0,186.19 L937.1,185.26 L937.3,184.34 L937.4,183.41 L937.5,182.48 L937.6,181.55 L937.7,180.62 L937.9,179.70 L938.0,178.77 L938.1,177.84 L938.2,176.92 L938.3,175.99 L938.5,175.06 L938.6,174.13 L938.7,173.21 L938.8,172.28 L939.0,171.36 L939.1,170.43 L939.2,169.50 L939.3,168.58 L939.4,167.65 L939.6,166.72 L939.7,165.80 L939.8,164.87 L939.9,163.95 L940.1,163.02 L940.2,162.10 L940.3,161.17 L940.4,160.25 L940.6,159.32 L940.7,158.40 L940.8,157.47 L940.9,156.55 L941.1,155.62 L941.2,154.70 L941.3,153.78 L941.5,152.85 L941.6,151.93 L941.7,151.00 L941.8,150.08 L942.0,149.16 L942.1,148.23 L942.2,147.31 L942.4,146.39 L942.5,145.46 L942.6,144.54 L942.7,143.62 L942.9,142.70 L943.0,141.77 L943.1,140.85 L943.3,139.93 L943.4,139.01 L943.5,138.08 L943.7,137.16 L943.8,136.24 L943.9,135.32 L944.1,134.40 L944.2,133.48 L944.3,132.55 L944.5,131.63 L944.6,130.71 L944.7,129.79 L944.9,128.87 L945.0,127.95 L945.1,127.03 L945.3,126.11 L945.4,125.19 L945.5,124.27 L945.7,123.35 L945.8,122.43 L945.9,121.51 L946.1,120.59 L946.2,119.67 L946.3,118.75 L946.5,117.83 L946.6,116.92 L946.8,116.00 L946.9,115.08 L947.0,114.16 L947.2,113.24 L947.3,112.32 L947.5,111.40 L947.6,110.48 L947.7,109.56 L947.9,108.63 L948.1,107.70 L948.2,106.76 L948.4,105.81 L948.6,104.86 L948.8,103.90 L949.0,102.93 L949.3,101.95 L949.5,100.97 L949.8,99.96 L950.1,98.95 L950.4,97.92 L950.7,96.88 L951.0,95.82 L951.4,94.75 L951.8,93.68 L952.2,92.62 L952.7,91.59 L953.1,90.62 L953.6,89.71 L954.0,88.90 L954.5,88.20 L955.0,87.63 L955.5,87.21 L956.0,86.95 L956.5,86.89 L956.9,87.01 L957.4,87.32 L957.9,87.80 L958.4,88.41 L958.8,89.15 L959.3,89.99 L959.7,90.92 L960.1,91.91 L960.6,92.95 L961.0,94.02 L961.4,95.09 L961.8,96.16 L962.1,97.20 L962.5,98.23 L962.8,99.25 L963.1,100.25 L963.5,101.24 L963.8,102.21 L964.1,103.18 L964.4,104.13 L964.6,105.08 L964.9,106.01 L965.2,106.94 L965.4,107.86 L965.7,108.78 L965.9,109.69 L966.1,110.60 L966.4,111.51 L966.6,112.41 L966.8,113.31 L967.0,114.22 L967.2,115.12 L967.4,116.02 L967.6,116.93 L967.8,117.84 L968.0,118.74 L968.2,119.65 L968.4,120.56 L968.6,121.46 L968.7,122.37 L968.9,123.28 L969.1,124.19 L969.2,125.10 L969.4,126.01 L969.6,126.92 L969.7,127.84 L969.9,128.75 L970.0,129.66 L970.2,130.57 L970.3,131.49 L970.5,132.40 L970.6,133.32 L970.7,134.23 L970.9,135.15 L971.0,136.07 L971.1,136.98 L971.3,137.90 L971.4,138.82 L971.5,139.74 L971.6,140.65 L971.7,141.57 L971.8,142.49 L972.0,143.41 L972.1,144.33 L972.2,145.25 L972.3,146.18 L972.4,147.10 L972.5,148.02 L972.6,148.94 L972.7,149.87 L972.8,150.79 L972.9,151.71 L973.0,152.64 L973.1,153.56 L973.2,154.49 L973.3,155.41 L973.3,156.34 L973.4,157.26 L973.5,158.19 L973.6,159.12 L973.7,160.04 L973.8,160.97 L973.9,161.90 L973.9,162.83 L974.0,163.76 L974.1,164.69 L974.2,165.62 L974.3,166.54 L974.4,167.47 L974.4,168.40 L974.5,169.34 L974.6,170.27 L974.7,171.20 L974.8,172.13 L974.8,173.06 L974.9,173.99 L975.0,174.92 L975.1,175.86 L975.2,176.79 L975.2,177.72 L975.3,178.66 L975.4,179.59 L975.5,180.52 L975.5,181.46 L975.6,182.39 L975.7,183.33 L975.8,184.26 L975.8,185.19 L975.9,186.13 L976.0,187.07 L976.1,188.00 L976.1,188.94 L976.2,189.87 L976.3,190.81 L976.3,191.75 L976.4,192.68 L976.5,193.62 L976.6,194.56 L976.6,195.49 L976.7,196.43 L976.8,197.37 L976.9,198.31 L976.9,199.24 L977.0,200.18 L977.1,201.12 L977.1,202.06 L977.2,203.00 L977.3,203.93 L977.3,204.87 L977.4,205.81 L977.5,206.75 L977.6,207.69 L977.6,208.63 L977.7,209.57 L977.8,210.51 L977.8,211.45 L977.9,212.39 L978.0,213.33 L978.0,214.27 L978.1,215.21 L978.2,216.15 L978.2,217.09 L978.3,218.03 L978.4,218.97 L978.4,219.91 L978.5,220.85 L978.6,221.79 L978.6,222.73 L978.7,223.67 L978.8,224.61 L978.8,225.55 L978.9,226.49 L979.0,227.43 L979.0,228.37 L979.1,229.31 L979.2,230.25 L979.2,231.20 L979.3,232.14 L979.4,233.08 L979.4,234.02 L979.5,234.96 L979.6,235.90 L979.6,236.84 L979.7,237.78 L979.8,238.72 L979.8,239.66 L979.9,240.60 L980.0,241.54 L980.0,242.48 L980.1,243.43 L980.2,244.37 L980.2,245.31 L980.3,246.25 L980.4,247.19 L980.4,248.13 L980.5,249.07 L980.6,250.01 L980.6,250.95 L980.7,251.89 L980.8,252.83 L980.8,253.77 L980.9,254.71 L981.0,255.65 L981.0,256.59 L981.1,257.53 L981.2,258.47 L981.2,259.41 L981.3,260.35 L981.4,261.29 L981.4,262.23 L981.5,263.17 L981.6,264.11 L981.6,265.05 L981.7,265.99 L981.8,266.93 L981.8,267.87 L981.9,268.81 L982.0,269.75 L982.0,270.69 L982.1,271.63 L982.2,272.57 L982.2,273.51 L982.3,274.45 L982.4,275.39 L982.4,276.33 L982.5,277.27 L982.6,278.21 L982.6,279.15 L982.7,280.09 L982.8,281.03 L982.8,281.97 L982.9,282.91 L982.9,283.85 L983.0,284.79 L983.1,285.73 L983.1,286.67 L983.2,287.61 L983.3,288.55 L983.3,289.49 L983.4,290.42 L983.5,291.36 L983.5,292.30 L983.6,293.24 L983.7,294.18 L983.7,295.12 L983.8,296.06 L983.9,297.00 L983.9,297.94 L984.0,298.88 L984.1,299.82 L984.1,300.76 L984.2,301.70 L984.3,302.64 L984.3,303.57 L984.4,304.51 L984.5,305.45 L984.5,306.39 L984.6,307.33 L984.7,308.27 L984.7,309.21 L984.8,310.15 L984.9,311.09 L984.9,312.03 L985.0,312.96 L985.1,313.90 L985.1,314.84 L985.2,315.78 L985.3,316.72 L985.3,317.66 L985.4,318.60 L985.5,319.54 L985.5,320.48 L985.6,321.41 L985.7,322.35 L985.7,323.29 L985.8,324.23 L985.9,325.17 L985.9,326.11 L986.0,327.05 L986.1,327.99 L986.1,328.92 L986.2,329.86 L986.3,330.80 L986.3,331.74 L986.4,332.68 L986.5,333.62 L986.5,334.56 L986.6,335.49 L986.7,336.43 L986.7,337.37 L986.8,338.31 L986.9,339.25 L986.9,340.19 L987.0,341.13 L987.1,342.06 L987.1,343.00 L987.2,343.94 L987.3,344.88 L987.3,345.82 L987.4,346.76 L987.5,347.69 L987.5,348.63 L987.6,349.57 L987.7,350.51 L987.7,351.45 L987.8,352.39 L987.8,353.32 L987.9,354.26 L988.0,355.20 L988.0,356.14 L988.1,357.08 L988.2,358.02 L988.2,358.95 L988.3,359.89 L988.4,360.83 L988.4,361.77 L988.5,362.71 L988.6,363.65 L988.6,364.58 L988.7,365.52 L988.8,366.46 L988.8,367.40 L988.9,368.34 L989.0,369.27 L989.0,370.21 L989.1,371.15 L989.2,372.09 L989.2,373.03 L989.3,373.96 L989.4,374.90 L989.4,375.84 L989.5,376.78 L989.6,377.72 L989.6,378.65 L989.7,379.59 L989.8,380.53 L989.8,381.47 L989.9,382.41 L990.0,383.34 L990.0,384.28 L990.1,385.22 L990.2,386.16 L990.2,387.10 L990.3,388.03 L990.4,388.97 L990.4,389.91 L990.5,390.85 L990.6,391.79 L990.6,392.72 L990.7,393.66 L990.8,394.60 L990.8,395.54 L990.9,396.48 L991.0,397.41 L991.0,398.35 L991.1,399.29 L991.2,400.23 L991.2,401.17 L991.3,402.10 L991.3,403.04 L991.4,403.98 L991.5,404.92 L991.5,405.86 L991.6,406.79 L991.7,407.73 L991.7,408.67 L991.8,409.61 L991.9,410.54 L991.9,411.48 L992.0,412.42 L992.1,413.36 L992.1,414.30 L992.2,415.23 L992.3,416.17 L992.3,417.11 L992.4,418.05 L992.5,418.98 L992.5,419.92 L992.6,420.86 L992.7,421.80 L992.7,422.74 L992.8,423.67 L992.9,424.61 L992.9,425.55 L993.0,426.49 L993.1,427.43 L993.1,428.36 L993.2,429.30 L993.3,430.24 L993.3,431.18 L993.4,432.11 L993.5,433.05 L993.5,433.99 L993.6,434.93 L993.6,435.87 L993.7,436.80 L993.8,437.74 L993.8,438.68 L993.9,439.62 L994.0,440.55 L994.0,441.49 L994.1,442.43 L994.2,443.37 L994.2,444.31 L994.3,445.24 L994.4,446.18 L994.4,447.12 L994.5,448.06 L994.6,448.99 L994.6,449.93 L994.7,450.87 L994.8,451.81 L994.8,452.75 L994.9,453.68 L995.0,454.62 L995.0,455.56 L995.1,456.50 L995.2,457.44 L995.2,458.37 L995.3,459.31 L995.4,460.25 L995.4,461.19 L995.5,462.12 L995.5,463.06 L995.6,464.00 L995.7,464.94 L995.7,465.88 L995.8,466.81 L995.9,467.75 L995.9,468.69 L996.0,469.63 L996.1,470.57 L996.1,471.50 L996.2,472.44 L996.3,473.38 L996.3,474.32 L996.4,475.26 L996.5,476.19 L996.5,477.13 L996.6,478.07 L996.7,479.01 L996.7,479.95 L996.8,480.88 L996.9,481.82 L996.9,482.76 L997.0,483.70 L997.1,484.64 L997.1,485.57 L997.2,486.51 L997.2,487.45 L997.3,488.39 L997.4,489.33 L997.4,490.26 L997.5,491.20 L997.6,492.14 L997.6,493.08 L997.7,494.02 L997.8,494.95 L997.8,495.89 L997.9,496.83 L998.0,497.77 L998.0,498.71 L998.1,499.64 L998.2,500.58 L998.2,501.52 L998.3,502.46 L998.4,503.40 L998.4,504.34 L998.5,505.27 L998.5,506.21 L998.6,507.15 L998.7,508.09 L998.7,509.03 L998.8,509.96 L998.9,510.90 L998.9,511.84 L999.0,512.78 L999.1,513.72 L999.1,514.66 L999.2,515.59 L999.3,516.53 L999.3,517.47 L999.4,518.41 L999.5,519.35 L999.5,520.28 L999.6,521.22 L999.7,522.16 L999.7,523.10 L999.8,524.04 L999.9,524.98 L999.9,525.91 L1000.0,526.85 L1000.1,527.79 L1000.1,528.73 L1000.2,529.67 L1000.3,530.60 L1000.3,531.54 L1000.4,532.48 L1000.5,533.42 L1000.5,534.36 L1000.6,535.29 L1000.7,536.23 L1000.7,537.17 L1000.8,538.11 L1000.9,539.05 L1001.0,539.98 L1001.0,540.92 L1001.1,541.86 L1001.2,542.80 L1001.2,543.74 L1001.3,544.67 L1001.4,545.61 L1001.5,546.55 L1001.5,547.49 L1001.6,548.42 L1001.7,549.36 L1001.7,550.30 L1001.8,551.24 L1001.9,552.17 L1002.0,553.11 L1002.0,554.05 L1002.1,554.99 L1002.2,555.92 L1002.3,556.86 L1002.3,557.80 L1002.4,558.74 L1002.5,559.67 L1002.6,560.61 L1002.7,561.55 L1002.7,562.48 L1002.8,563.42 L1002.9,564.36 L1003.0,565.30 L1003.1,566.23 L1003.1,567.17 L1003.2,568.11 L1003.3,569.04 L1003.4,569.98 L1003.5,570.92 L1003.5,571.85 L1003.6,572.79 L1003.7,573.73 L1003.8,574.66 L1003.9,575.60 L1004.0,576.54 L1004.0,577.47 L1004.1,578.41 L1004.2,579.34 L1004.3,580.28 L1004.4,581.22 L1004.5,582.15 L1004.6,583.09 L1004.7,584.03 L1004.7,584.96 L1004.8,585.90 L1004.9,586.83 L1005.0,587.77 L1005.1,588.70 L1005.2,589.64 L1005.3,590.58 L1005.4,591.51 L1005.5,592.45 L1005.6,593.38 L1005.7,594.32 L1005.8,595.25 L1005.9,596.19 L1006.0,597.12 L1006.1,598.06 L1006.2,598.99 L1006.3,599.93 L1006.4,600.86 L1006.5,601.80 L1006.6,602.73 L1006.7,603.67 L1006.8,604.60 L1006.9,605.53 L1007.0,606.47 L1007.1,607.40 L1007.2,608.34 L1007.3,609.27 L1007.4,610.20 L1007.5,611.14 L1007.6,612.07 L1007.7,613.01 L1007.8,613.94 L1008.0,614.87 L1008.1,615.81 L1008.2,616.74 L1008.3,617.67 L1008.4,618.61 L1008.5,619.54 L1008.6,620.47 L1008.8,621.41 L1008.9,622.34 L1009.0,623.27 L1009.1,624.20 L1009.2,625.14 L1009.3,626.07 L1009.5,627.00 L1009.6,627.93 L1009.7,628.87 L1009.8,629.80 L1010.0,630.73 L1010.1,631.66 L1010.2,632.59 L1010.3,633.52 L1010.5,634.46 L1010.6,635.39 L1010.7,636.32 L1010.9,637.25 L1011.0,638.18 L1011.1,639.11 L1011.3,640.04 L1011.4,640.97 L1011.5,641.91 L1011.7,642.84 L1011.8,643.77 L1011.9,644.70 L1012.1,645.63 L1012.2,646.56 L1012.4,647.49 L1012.5,648.42 L1012.7,649.35 L1012.8,650.28 L1012.9,651.21 L1013.1,652.14 L1013.2,653.07 L1013.4,653.99 L1013.5,654.92 L1013.7,655.85 L1013.8,656.78 L1014.0,657.71 L1014.1,658.64 L1014.3,659.57 L1014.5,660.50 L1014.6,661.42 L1014.8,662.35 L1014.9,663.28 L1015.1,664.21 L1015.3,665.14 L1015.4,666.06 L1015.6,666.99 L1015.7,667.92 L1015.9,668.85 L1016.1,669.77 L1016.3,670.70 L1016.4,671.63 L1016.6,672.55 L1016.8,673.48 L1016.9,674.41 L1017.1,675.33 L1017.3,676.26 L1017.5,677.19 L1017.6,678.11 L1017.8,679.04 L1018.0,679.96 L1018.2,680.89 L1018.4,681.81 L1018.5,682.74 L1018.7,683.66 L1018.9,684.59 L1019.1,685.51 L1019.3,686.44 L1019.5,687.36 L1019.7,688.29 L1019.9,689.21 L1020.1,690.14 L1020.3,691.06 L1020.5,691.98 L1020.7,692.91 L1020.8,693.83 L1021.0,694.75 L1021.3,695.68 L1021.5,696.60 L1021.7,697.52 L1021.9,698.45 L1022.1,699.37 L1022.3,700.29 L1022.5,701.21 L1022.7,702.13 L1022.9,703.06 L1023.1,703.98 L1023.3,704.90 L1023.6,705.82 L1023.8,706.74 L1024.0,707.66 L1024.2,708.58 L1024.4,709.51 L1024.7,710.43 L1024.9,711.35 L1025.1,712.27 L1025.3,713.19 L1025.6,714.11 L1025.8,715.03 L1026.0,715.95 L1026.3,716.87 L1026.5,717.78 L1026.7,718.70 L1027.0,719.62 L1027.2,720.54 L1027.5,721.46 L1027.7,722.38 L1027.9,723.29 L1028.2,724.21 L1028.4,725.12 L1028.7,726.03 L1029.0,726.94 L1029.2,727.85 L1029.5,728.76 L1029.8,729.66 L1030.0,730.56 L1030.3,731.46 L1030.6,732.36 L1030.9,733.25 L1031.2,734.13 L1031.5,735.02 L1031.8,735.90 L1032.2,736.77 L1032.5,737.64 L1032.8,738.51 L1033.2,739.37 L1033.5,740.23 L1033.9,741.08 L1034.3,741.92 L1034.6,742.76 L1035.0,743.59 L1035.4,744.42 L1035.9,745.24 L1036.3,746.05 L1036.7,746.86 L1037.2,747.66 L1037.6,748.45 L1038.1,749.23 L1038.6,750.01 L1039.1,750.77 L1039.6,751.53 L1040.1,752.28 L1040.6,753.02 L1041.2,753.76 L1041.7,754.48 L1042.3,755.19 L1042.9,755.90 L1043.5,756.60 L1044.1,757.29 L1044.7,757.97 L1045.3,758.65 L1046.0,759.31 L1046.6,759.97 L1047.3,760.62 L1048.0,761.26 L1048.7,761.90 L1049.4,762.53 L1050.1,763.15 L1050.8,763.76 L1051.5,764.36 L1052.2,764.96 L1053.0,765.55 L1053.7,766.14 L1054.5,766.72 L1055.2,767.29 L1056.0,767.85 L1056.8,768.41 L1057.5,768.96 L1058.3,769.50 L1059.1,770.04 L1059.9,770.58 L1060.7,771.10 L1061.5,771.62 L1062.3,772.14 L1063.2,772.64 L1064.0,773.15 L1064.8,773.65 L1065.6,774.14 L1066.5,774.62 L1067.3,775.10 L1068.1,775.58 L1069.0,776.05 L1069.8,776.52 L1070.7,776.98 L1071.5,777.43 L1072.4,777.89 L1073.2,778.33 L1074.1,778.77 L1074.9,779.21 L1075.8,779.65 L1076.6,780.07 L1077.5,780.50 L1078.3,780.92 L1079.2,781.33 L1080.0,781.74 L1080.9,782.15 L1081.8,782.55 L1082.6,782.94 L1083.5,783.34 L1084.3,783.73 L1085.2,784.11 L1086.1,784.49 L1086.9,784.86 L1087.8,785.24 L1088.7,785.60 L1089.6,785.97 L1090.4,786.33 L1091.3,786.68 L1092.2,787.03 L1093.0,787.38 L1093.9,787.72 L1094.8,788.06 L1095.7,788.40 L1096.6,788.73 L1097.4,789.06 L1098.3,789.38 L1099.2,789.70 L1100.1,790.02 L1101.0,790.33 L1101.9,790.64 L1102.8,790.94 L1103.6,791.24 L1104.5,791.54 L1105.4,791.84 L1106.3,792.13 L1107.2,792.42 L1108.1,792.70 L1109.0,792.98 L1109.9,793.26 L1110.8,793.53 L1111.7,793.80 L1112.6,794.07 L1113.5,794.33 L1114.4,794.59 L1115.3,794.85 L1116.2,795.11 L1117.1,795.36 L1118.0,795.61 L1118.9,795.85 L1119.8,796.09 L1120.7,796.33 L1121.6,796.57 L1122.5,796.80 L1123.4,797.03 L1124.3,797.26 L1125.2,797.48 L1126.1,797.71 L1127.0,797.92 L1128.0,798.14 L1128.9,798.35 L1129.8,798.56 L1130.7,798.77 L1131.6,798.98 L1132.5,799.18 L1133.4,799.38 L1134.3,799.58 L1135.3,799.77 L1136.2,799.97 L1137.1,800.16 L1138.0,800.35 L1138.9,800.53 L1139.9,800.71 L1140.8,800.90 L1141.7,801.07 L1142.6,801.25 L1143.5,801.43 L1144.5,801.60 L1145.4,801.77 L1146.3,801.93 L1147.2,802.10 L1148.2,802.26 L1149.1,802.43 L1150.0,802.58 L1150.9,802.74 L1151.9,802.90 L1152.8,803.05 L1153.7,803.20 L1154.6,803.35 L1155.6,803.50 L1156.5,803.65 L1157.4,803.79 L1158.4,803.94 L1159.3,804.08 L1160.2,804.22 L1161.1,804.35 L1162.1,804.49 L1163.0,804.63 L1163.9,804.76 L1164.9,804.89 L1165.8,805.02 L1166.7,805.15 L1167.7,805.28 L1168.6,805.40 L1169.5,805.53 L1170.5,805.65 L1171.4,805.78 L1172.3,805.90 L1173.3,806.02 L1174.2,806.13 L1175.1,806.25 L1176.1,806.37 L1177.0,806.48 L1178.0,806.60 L1178.9,806.71 L1179.8,806.82 L1180.8,806.94 L1181.7,807.05 L1182.6,807.15 L1183.6,807.26 L1184.5,807.37 L1185.4,807.48 L1186.4,807.58 L1187.3,807.69 L1188.3,807.79 L1189.2,807.90 L1190.1,808.00 L1191.1,808.11 L1192.0,808.21 L1193.0,808.31 L1193.9,808.41 L1194.8,808.51 L1195.8,808.61 L1196.7,808.71 L1197.6,808.81 L1198.6,808.91 L1199.5,809.01 L1200.5,809.11 L1201.4,809.21 L1202.3,809.30 L1203.3,809.40 L1204.2,809.50 L1205.1,809.60 L1206.1,809.69 L1207.0,809.79 L1208.0,809.89 L1208.9,809.99 L1209.8,810.08 L1210.8,810.18 L1211.7,810.28 L1212.6,810.38 L1213.6,810.47 L1214.5,810.57 L1215.5,810.67 L1216.4,810.77 L1217.3,810.87 L1218.3,810.96 L1219.2,811.06 L1220.1,811.16 L1221.1,811.26 L1222.0,811.36 L1222.9,811.46 L1223.9,811.57 L1224.8,811.67 L1225.7,811.77 L1226.7,811.87 L1227.6,811.98 L1228.5,812.08 L1229.5,812.19 L1230.4,812.29 L1231.3,812.40 L1232.3,812.51 L1233.2,812.61 L1234.1,812.72 L1235.1,812.83 L1236.0,812.94 L1236.9,813.06 L1237.9,813.17 L1238.8,813.28" fill="none" stroke="#F00028" stroke-width="3.6" stroke-linejoin="round" stroke-linecap="round"/>
<path d="M90.2,909.19 L92.6,909.12 L94.9,909.03 L97.3,908.95 L99.6,908.85 L102.0,908.76 L104.4,908.66 L106.7,908.55 L109.1,908.44 L111.4,908.33 L113.8,908.21 L116.1,908.08 L118.5,907.95 L120.8,907.82 L123.2,907.68 L125.5,907.54 L127.8,907.39 L130.2,907.24 L132.5,907.09 L134.9,906.93 L137.2,906.77 L139.5,906.60 L141.9,906.43 L144.2,906.25 L146.5,906.07 L148.9,905.88 L151.2,905.69 L153.5,905.50 L155.9,905.30 L158.2,905.10 L160.5,904.90 L162.8,904.69 L165.2,904.47 L167.5,904.26 L169.8,904.03 L172.1,903.81 L174.5,903.58 L176.8,903.35 L179.1,903.11 L181.4,902.87 L183.7,902.62 L186.0,902.38 L188.4,902.12 L190.7,901.87 L193.0,901.61 L195.3,901.34 L197.6,901.08 L199.9,900.81 L202.2,900.53 L204.5,900.26 L206.8,899.97 L209.2,899.69 L211.5,899.40 L213.8,899.11 L216.1,898.82 L218.4,898.52 L220.7,898.22 L223.0,897.91 L225.3,897.60 L227.6,897.29 L229.9,896.98 L232.2,896.66 L234.5,896.34 L236.8,896.01 L239.1,895.68 L241.4,895.35 L243.7,895.02 L246.0,894.68 L248.3,894.34 L250.6,894.00 L252.9,893.65 L255.2,893.30 L257.4,892.95 L259.7,892.59 L262.0,892.24 L264.3,891.88 L266.6,891.51 L268.9,891.15 L271.2,890.78 L273.5,890.40 L275.8,890.03 L278.1,889.65 L280.4,889.27 L282.6,888.89 L284.9,888.50 L287.2,888.11 L289.5,887.72 L291.8,887.33 L294.1,886.93 L296.4,886.53 L298.7,886.13 L300.9,885.73 L303.2,885.32 L305.5,884.92 L307.8,884.51 L310.1,884.09 L312.4,883.68 L314.7,883.26 L316.9,882.84 L319.2,882.42 L321.5,881.99 L323.8,881.57 L326.1,881.14 L328.4,880.71 L330.6,880.27 L332.9,879.84 L335.2,879.40 L337.5,878.96 L339.8,878.52 L342.1,878.08 L344.3,877.63 L346.6,877.18 L348.9,876.73 L351.2,876.28 L353.5,875.83 L355.8,875.38 L358.0,874.92 L360.3,874.46 L362.6,874.00 L364.9,873.54 L367.2,873.08 L369.5,872.61 L371.7,872.14 L374.0,871.67 L376.3,871.20 L378.6,870.73 L380.9,870.26 L383.2,869.78 L385.4,869.31 L387.7,868.83 L390.0,868.35 L392.3,867.87 L394.6,867.39 L396.9,866.90 L399.1,866.42 L401.4,865.93 L403.7,865.45 L406.0,864.96 L408.3,864.47 L410.6,863.98 L412.9,863.48 L415.2,862.99 L417.4,862.50 L419.7,862.00 L422.0,861.51 L424.3,861.01 L426.6,860.51 L428.9,860.01 L431.2,859.52 L433.5,859.02 L435.8,858.52 L438.0,858.02 L440.3,857.52 L442.6,857.02 L444.9,856.52 L447.2,856.02 L449.5,855.53 L451.8,855.03 L454.1,854.53 L456.4,854.03 L458.7,853.53 L461.0,853.04 L463.3,852.54 L465.6,852.05 L467.9,851.55 L470.1,851.06 L472.4,850.57 L474.7,850.08 L477.0,849.59 L479.3,849.10 L481.6,848.61 L483.9,848.13 L486.2,847.65 L488.5,847.16 L490.8,846.68 L493.1,846.21 L495.4,845.73 L497.7,845.25 L500.0,844.78 L502.3,844.31 L504.6,843.84 L506.9,843.38 L509.2,842.91 L511.5,842.45 L513.8,841.99 L516.1,841.54 L518.4,841.09 L520.7,840.64 L523.0,840.19 L525.3,839.74 L527.6,839.30 L529.9,838.87 L532.2,838.43 L534.5,838.00 L536.8,837.57 L539.1,837.15 L541.4,836.73 L543.7,836.31 L546.0,835.90 L548.3,835.49 L550.6,835.08 L552.9,834.68 L555.2,834.28 L557.5,833.89 L559.8,833.50 L562.1,833.11 L564.4,832.73 L566.7,832.36 L569.0,831.99 L571.3,831.62 L573.7,831.26 L576.0,830.90 L578.3,830.55 L580.6,830.20 L582.9,829.86 L585.2,829.52 L587.5,829.19 L589.8,828.86 L592.1,828.54 L594.4,828.23 L596.7,827.92 L599.0,827.61 L601.3,827.32 L603.6,827.02 L605.9,826.74 L608.2,826.46 L610.6,826.18 L612.9,825.91 L615.2,825.65 L617.5,825.39 L619.8,825.15 L622.1,824.90 L624.4,824.67 L626.7,824.44 L629.0,824.21 L631.3,824.00 L633.6,823.79 L635.9,823.59 L638.3,823.39 L640.6,823.21 L642.9,823.03 L645.2,822.85 L647.5,822.69 L649.8,822.53 L652.1,822.38 L654.4,822.24 L656.7,822.10 L659.0,821.97 L661.3,821.85 L663.7,821.74 L666.0,821.64 L668.3,821.54 L670.6,821.46 L672.9,821.38 L675.2,821.31 L677.5,821.25 L679.8,821.20 L682.1,821.15 L684.5,821.12 L686.8,821.09 L689.1,821.07 L691.4,821.07 L693.7,821.07 L696.0,821.07 L698.3,821.09 L700.6,821.12 L702.9,821.15 L705.3,821.20 L707.6,821.25 L709.9,821.31 L712.2,821.38 L714.5,821.46 L716.8,821.54 L719.1,821.63 L721.4,821.74 L723.8,821.84 L726.1,821.96 L728.4,822.09 L730.7,822.22 L733.0,822.36 L735.3,822.50 L737.6,822.66 L739.9,822.82 L742.2,822.99 L744.6,823.17 L746.9,823.35 L749.2,823.54 L751.5,823.74 L753.8,823.94 L756.1,824.15 L758.4,824.37 L760.7,824.59 L763.0,824.82 L765.4,825.06 L767.7,825.30 L770.0,825.55 L772.3,825.81 L774.6,826.07 L776.9,826.34 L779.2,826.62 L781.5,826.90 L783.8,827.18 L786.2,827.48 L788.5,827.77 L790.8,828.08 L793.1,828.39 L795.4,828.70 L797.7,829.02 L800.0,829.35 L802.3,829.68 L804.6,830.01 L806.9,830.35 L809.2,830.70 L811.5,831.05 L813.9,831.40 L816.2,831.76 L818.5,832.13 L820.8,832.50 L823.1,832.87 L825.4,833.25 L827.7,833.63 L830.0,834.02 L832.3,834.41 L834.6,834.81 L836.9,835.21 L839.2,835.61 L841.5,836.02 L843.8,836.43 L846.1,836.85 L848.4,837.27 L850.8,837.69 L853.1,838.11 L855.4,838.54 L857.7,838.98 L860.0,839.41 L862.3,839.85 L864.6,840.30 L866.9,840.74 L869.2,841.19 L871.5,841.64 L873.8,842.10 L876.1,842.55 L878.4,843.01 L880.7,843.48 L883.0,843.94 L885.3,844.41 L887.6,844.88 L889.9,845.35 L892.2,845.83 L894.5,846.30 L896.8,846.78 L899.1,847.26 L901.4,847.74 L903.7,848.23 L905.9,848.72 L908.2,849.20 L910.5,849.69 L912.8,850.18 L915.1,850.68 L917.4,851.17 L919.7,851.66 L922.0,852.16 L924.3,852.66 L926.6,853.16 L928.9,853.66 L931.2,854.16 L933.5,854.66 L935.7,855.16 L938.0,855.66 L940.3,856.17 L942.6,856.67 L944.9,857.17 L947.2,857.68 L949.5,858.18 L951.8,858.69 L954.0,859.19 L956.3,859.70 L958.6,860.20 L960.9,860.71 L963.2,861.21 L965.5,861.72 L967.7,862.22 L970.0,862.73 L972.3,863.23 L974.6,863.74 L976.9,864.24 L979.2,864.74 L981.4,865.24 L983.7,865.74 L986.0,866.24 L988.3,866.74 L990.5,867.24 L992.8,867.74 L995.1,868.24 L997.4,868.73 L999.7,869.23 L1001.9,869.72 L1004.2,870.22 L1006.5,870.71 L1008.8,871.20 L1011.0,871.69 L1013.3,872.18 L1015.6,872.67 L1017.9,873.15 L1020.1,873.64 L1022.4,874.12 L1024.7,874.60 L1027.0,875.08 L1029.3,875.56 L1031.5,876.03 L1033.8,876.51 L1036.1,876.98 L1038.4,877.45 L1040.6,877.92 L1042.9,878.39 L1045.2,878.85 L1047.5,879.32 L1049.7,879.78 L1052.0,880.23 L1054.3,880.69 L1056.6,881.15 L1058.9,881.60 L1061.1,882.05 L1063.4,882.49 L1065.7,882.94 L1068.0,883.38 L1070.2,883.82 L1072.5,884.26 L1074.8,884.69 L1077.1,885.12 L1079.4,885.55 L1081.6,885.98 L1083.9,886.40 L1086.2,886.82 L1088.5,887.24 L1090.8,887.65 L1093.1,888.06 L1095.4,888.47 L1097.6,888.88 L1099.9,889.28 L1102.2,889.68 L1104.5,890.07 L1106.8,890.46 L1109.1,890.85 L1111.4,891.24 L1113.7,891.62 L1115.9,892.00 L1118.2,892.37 L1120.5,892.74 L1122.8,893.11 L1125.1,893.47 L1127.4,893.83 L1129.7,894.18 L1132.0,894.54 L1134.3,894.88 L1136.6,895.23 L1138.9,895.57 L1141.2,895.90 L1143.5,896.23 L1145.8,896.56 L1148.1,896.88 L1150.4,897.20 L1152.7,897.51 L1155.0,897.82 L1157.3,898.12 L1159.6,898.42 L1161.9,898.72 L1164.3,899.01 L1166.6,899.30 L1168.9,899.58 L1171.2,899.85 L1173.5,900.13 L1175.8,900.39 L1178.1,900.65 L1180.5,900.91 L1182.8,901.16 L1185.1,901.41 L1187.4,901.65 L1189.8,901.89 L1192.1,902.12 L1194.4,902.34 L1196.7,902.56 L1199.1,902.78 L1201.4,902.99 L1203.7,903.19 L1206.1,903.39 L1208.4,903.58 L1210.7,903.77 L1213.1,903.95 L1215.4,904.13 L1217.8,904.30 L1220.1,904.46 L1222.5,904.62 L1224.8,904.77 L1227.2,904.92 L1229.5,905.06 L1231.9,905.19 L1234.2,905.32 L1236.6,905.44 L1238.9,905.55" fill="none" stroke="#0A7814" stroke-width="3.2" stroke-linecap="round"/>
<path d="M90.0,918.17 L91.4,918.17 L92.8,918.17 L94.3,918.17 L95.7,918.17 L97.1,918.17 L98.5,918.17 L99.9,918.17 L101.3,918.17 L102.7,918.18 L104.2,918.18 L105.6,918.18 L107.0,918.18 L108.4,918.18 L109.8,918.18 L111.2,918.18 L112.6,918.18 L114.1,918.18 L115.5,918.18 L116.9,918.18 L118.3,918.19 L119.7,918.19 L121.1,918.19 L122.6,918.19 L124.0,918.19 L125.4,918.19 L126.8,918.19 L128.2,918.19 L129.6,918.19 L131.0,918.19 L132.5,918.19 L133.9,918.19 L135.3,918.19 L136.7,918.19 L138.1,918.20 L139.5,918.20 L141.0,918.20 L142.4,918.20 L143.8,918.20 L145.2,918.20 L146.6,918.20 L148.0,918.20 L149.4,918.20 L150.9,918.20 L152.3,918.20 L153.7,918.20 L155.1,918.20 L156.5,918.20 L157.9,918.20 L159.4,918.20 L160.8,918.20 L162.2,918.20 L163.6,918.20 L165.0,918.20 L166.4,918.20 L167.8,918.20 L169.3,918.20 L170.7,918.20 L172.1,918.20 L173.5,918.20 L174.9,918.20 L176.3,918.20 L177.8,918.20 L179.2,918.20 L180.6,918.20 L182.0,918.20 L183.4,918.20 L184.8,918.20 L186.2,918.20 L187.7,918.20 L189.1,918.20 L190.5,918.20 L191.9,918.20 L193.3,918.20 L194.7,918.20 L196.2,918.20 L197.6,918.20 L199.0,918.20 L200.4,918.20 L201.8,918.20 L203.2,918.20 L204.6,918.20 L206.1,918.20 L207.5,918.20 L208.9,918.20 L210.3,918.20 L211.7,918.20 L213.1,918.20 L214.6,918.20 L216.0,918.20 L217.4,918.20 L218.8,918.20 L220.2,918.20 L221.6,918.20 L223.0,918.20 L224.5,918.20 L225.9,918.20 L227.3,918.20 L228.7,918.20 L230.1,918.20 L231.5,918.20 L233.0,918.20 L234.4,918.20 L235.8,918.20 L237.2,918.20 L238.6,918.20 L240.0,918.20 L241.4,918.20 L242.9,918.20 L244.3,918.20 L245.7,918.20 L247.1,918.20 L248.5,918.20 L249.9,918.20 L251.4,918.20 L252.8,918.20 L254.2,918.20 L255.6,918.20 L257.0,918.20 L258.4,918.20 L259.9,918.20 L261.3,918.20 L262.7,918.20 L264.1,918.20 L265.5,918.20 L266.9,918.20 L268.3,918.20 L269.8,918.20 L271.2,918.20 L272.6,918.20 L274.0,918.20 L275.4,918.20 L276.8,918.20 L278.3,918.20 L279.7,918.20 L281.1,918.20 L282.5,918.20 L283.9,918.20 L285.3,918.20 L286.7,918.20 L288.2,918.20 L289.6,918.20 L291.0,918.20 L292.4,918.20 L293.8,918.20 L295.2,918.20 L296.7,918.20 L298.1,918.20 L299.5,918.20 L300.9,918.20 L302.3,918.20 L303.7,918.20 L305.1,918.20 L306.6,918.20 L308.0,918.20 L309.4,918.20 L310.8,918.20 L312.2,918.20 L313.6,918.20 L315.1,918.20 L316.5,918.20 L317.9,918.20 L319.3,918.20 L320.7,918.20 L322.1,918.20 L323.5,918.20 L325.0,918.20 L326.4,918.20 L327.8,918.20 L329.2,918.20 L330.6,918.20 L332.0,918.20 L333.5,918.20 L334.9,918.20 L336.3,918.20 L337.7,918.20 L339.1,918.20 L340.5,918.20 L341.9,918.20 L343.4,918.20 L344.8,918.20 L346.2,918.20 L347.6,918.20 L349.0,918.20 L350.4,918.20 L351.9,918.20 L353.3,918.20 L354.7,918.20 L356.1,918.20 L357.5,918.20 L358.9,918.20 L360.3,918.20 L361.8,918.20 L363.2,918.20 L364.6,918.20 L366.0,918.20 L367.4,918.20 L368.8,918.20 L370.3,918.20 L371.7,918.20 L373.1,918.20 L374.5,918.20 L375.9,918.20 L377.3,918.20 L378.7,918.20 L380.2,918.20 L381.6,918.20 L383.0,918.20 L384.4,918.20 L385.8,918.20 L387.2,918.20 L388.7,918.20 L390.1,918.20 L391.5,918.20 L392.9,918.20 L394.3,918.20 L395.7,918.20 L397.2,918.20 L398.6,918.20 L400.0,918.20 L401.4,918.20 L402.8,918.20 L404.2,918.20 L405.6,918.20 L407.1,918.20 L408.5,918.20 L409.9,918.20 L411.3,918.20 L412.7,918.20 L414.1,918.20 L415.6,918.20 L417.0,918.20 L418.4,918.20 L419.8,918.20 L421.2,918.19 L422.6,918.19 L424.0,918.19 L425.5,918.19 L426.9,918.19 L428.3,918.19 L429.7,918.19 L431.1,918.19 L432.5,918.19 L434.0,918.19 L435.4,918.19 L436.8,918.19 L438.2,918.19 L439.6,918.19 L441.0,918.19 L442.4,918.19 L443.9,918.19 L445.3,918.19 L446.7,918.19 L448.1,918.19 L449.5,918.19 L450.9,918.19 L452.4,918.19 L453.8,918.19 L455.2,918.19 L456.6,918.19 L458.0,918.19 L459.4,918.19 L460.8,918.19 L462.3,918.19 L463.7,918.19 L465.1,918.19 L466.5,918.19 L467.9,918.19 L469.3,918.18 L470.8,918.18 L472.2,918.18 L473.6,918.18 L475.0,918.18 L476.4,918.18 L477.8,918.18 L479.2,918.18 L480.7,918.18 L482.1,918.18 L483.5,918.18 L484.9,918.18 L486.3,918.18 L487.7,918.18 L489.2,918.18 L490.6,918.18 L492.0,918.18 L493.4,918.18 L494.8,918.18 L496.2,918.18 L497.7,918.18 L499.1,918.18 L500.5,918.18 L501.9,918.18 L503.3,918.18 L504.7,918.18 L506.1,918.18 L507.6,918.18 L509.0,918.18 L510.4,918.18 L511.8,918.18 L513.2,918.18 L514.6,918.18 L516.1,918.18 L517.5,918.18 L518.9,918.18 L520.3,918.18 L521.7,918.18 L523.1,918.18 L524.5,918.18 L526.0,918.18 L527.4,918.18 L528.8,918.18 L530.2,918.18 L531.6,918.18 L533.0,918.18 L534.5,918.18 L535.9,918.18 L537.3,918.18 L538.7,918.17 L540.1,918.17 L541.5,918.17 L542.9,918.17 L544.4,918.17 L545.8,918.17 L547.2,918.17 L548.6,918.17 L550.0,918.17 L551.4,918.17 L552.9,918.17 L554.3,918.17 L555.7,918.17 L557.1,918.17 L558.5,918.17 L559.9,918.17 L561.3,918.17 L562.8,918.17 L564.2,918.17 L565.6,918.17 L567.0,918.17 L568.4,918.17 L569.8,918.17 L571.3,918.17 L572.7,918.17 L574.1,918.17 L575.5,918.17 L576.9,918.17 L578.3,918.17 L579.7,918.17 L581.2,918.17 L582.6,918.17 L584.0,918.17 L585.4,918.17 L586.8,918.17 L588.2,918.17 L589.7,918.17 L591.1,918.17 L592.5,918.17 L593.9,918.17 L595.3,918.17 L596.7,918.17 L598.1,918.17 L599.6,918.18 L601.0,918.18 L602.4,918.18 L603.8,918.18 L605.2,918.18 L606.6,918.18 L608.1,918.18 L609.5,918.18 L610.9,918.18 L612.3,918.18 L613.7,918.18 L615.1,918.18 L616.5,918.18 L618.0,918.18 L619.4,918.18 L620.8,918.18 L622.2,918.18 L623.6,918.18 L625.0,918.18 L626.5,918.18 L627.9,918.18 L629.3,918.18 L630.7,918.18 L632.1,918.18 L633.5,918.18 L634.9,918.18 L636.4,918.18 L637.8,918.18 L639.2,918.18 L640.6,918.18 L642.0,918.18 L643.4,918.18 L644.9,918.18 L646.3,918.18 L647.7,918.18 L649.1,918.18 L650.5,918.18 L651.9,918.18 L653.3,918.19 L654.8,918.19 L656.2,918.19 L657.6,918.19 L659.0,918.19 L660.4,918.19 L661.8,918.19 L663.3,918.19 L664.7,918.19 L666.1,918.19 L667.5,918.19 L668.9,918.19 L670.3,918.19 L671.7,918.19 L673.2,918.19 L674.6,918.19 L676.0,918.19 L677.4,918.19 L678.8,918.19 L680.2,918.19 L681.7,918.20 L683.1,918.20 L684.5,918.20 L685.9,918.20 L687.3,918.20 L688.7,918.20 L690.1,918.20 L691.6,918.20 L693.0,918.20 L694.4,918.20 L695.8,918.20 L697.2,918.20 L698.6,918.20 L700.1,918.20 L701.5,918.20 L702.9,918.20 L704.3,918.20 L705.7,918.20 L707.1,918.20 L708.5,918.20 L710.0,918.20 L711.4,918.20 L712.8,918.20 L714.2,918.20 L715.6,918.20 L717.0,918.20 L718.5,918.20 L719.9,918.20 L721.3,918.20 L722.7,918.20 L724.1,918.20 L725.5,918.20 L726.9,918.20 L728.4,918.20 L729.8,918.20 L731.2,918.20 L732.6,918.20 L734.0,918.20 L735.4,918.20 L736.9,918.20 L738.3,918.20 L739.7,918.20 L741.1,918.20 L742.5,918.20 L743.9,918.20 L745.3,918.20 L746.8,918.20 L748.2,918.20 L749.6,918.20 L751.0,918.20 L752.4,918.20 L753.8,918.20 L755.3,918.20 L756.7,918.20 L758.1,918.20 L759.5,918.20 L760.9,918.20 L762.3,918.20 L763.7,918.20 L765.2,918.20 L766.6,918.20 L768.0,918.20 L769.4,918.20 L770.8,918.20 L772.2,918.20 L773.7,918.20 L775.1,918.20 L776.5,918.20 L777.9,918.20 L779.3,918.20 L780.7,918.20 L782.1,918.20 L783.6,918.20 L785.0,918.20 L786.4,918.20 L787.8,918.20 L789.2,918.20 L790.6,918.20 L792.1,918.20 L793.5,918.20 L794.9,918.20 L796.3,918.20 L797.7,918.20 L799.1,918.20 L800.5,918.20 L802.0,918.20 L803.4,918.20 L804.8,918.20 L806.2,918.20 L807.6,918.20 L809.0,918.20 L810.4,918.20 L811.9,918.20 L813.3,918.20 L814.7,918.20 L816.1,918.20 L817.5,918.20 L818.9,918.20 L820.4,918.20 L821.8,918.20 L823.2,918.20 L824.6,918.20 L826.0,918.20 L827.4,918.20 L828.8,918.20 L830.3,918.20 L831.7,918.20 L833.1,918.20 L834.5,918.20 L835.9,918.20 L837.3,918.20 L838.8,918.20 L840.2,918.20 L841.6,918.20 L843.0,918.20 L844.4,918.20 L845.8,918.20 L847.2,918.20 L848.7,918.16 L850.1,918.12 L851.5,918.07 L852.9,918.01 L854.3,917.94 L855.7,917.87 L857.2,917.78 L858.6,917.69 L860.0,917.59 L861.4,917.47 L862.8,917.35 L864.2,917.21 L865.7,917.06 L867.1,916.90 L868.5,916.73 L869.9,916.54 L871.3,916.34 L872.7,916.13 L874.2,915.90 L875.6,915.66 L877.0,915.40 L878.4,915.11 L879.8,914.80 L881.2,914.45 L882.6,914.07 L883.9,913.63 L885.2,913.14 L886.4,912.59 L887.6,911.97 L888.8,911.28 L889.9,910.53 L890.9,909.70 L892.0,908.82 L892.9,907.88 L893.9,906.89 L894.7,905.84 L895.6,904.75 L896.4,903.62 L897.2,902.45 L898.0,901.25 L898.7,900.01 L899.4,898.75 L900.1,897.46 L900.8,896.15 L901.4,894.83 L902.1,893.50 L902.7,892.15 L903.3,890.81 L903.9,889.46 L904.5,888.11 L905.2,886.77 L905.8,885.44 L906.4,884.12 L907.0,882.80 L907.6,881.50 L908.2,880.19 L908.8,878.89 L909.4,877.60 L910.0,876.31 L910.5,875.02 L911.1,873.74 L911.7,872.46 L912.3,871.18 L912.8,869.90 L913.4,868.62 L913.9,867.34 L914.5,866.06 L915.0,864.78 L915.5,863.50 L916.0,862.21 L916.5,860.93 L917.0,859.63 L917.5,858.34 L918.0,857.03 L918.5,855.73 L918.9,854.41 L919.4,853.09 L919.8,851.76 L920.2,850.42 L920.6,849.08 L921.0,847.73 L921.4,846.37 L921.8,845.01 L922.2,843.64 L922.6,842.27 L923.0,840.89 L923.4,839.51 L923.8,838.13 L924.3,836.75 L924.7,835.37 L925.2,833.99 L925.7,832.61 L926.3,831.23 L926.9,829.85 L927.5,828.48 L928.2,827.11 L928.9,825.75 L929.6,824.40 L930.4,823.07 L931.3,821.78 L932.2,820.54 L933.1,819.36 L934.0,818.27 L935.0,817.27 L935.9,816.38 L936.9,815.61 L938.0,814.98 L939.0,814.49 L940.0,814.18 L941.1,814.04 L942.1,814.10 L943.2,814.36 L944.2,814.84 L945.3,815.56 L946.3,816.52 L947.3,817.69 L948.3,819.01 L949.3,820.44 L950.2,821.95 L951.1,823.48 L951.9,824.99 L952.7,826.44 L953.4,827.85 L954.1,829.21 L954.7,830.53 L955.3,831.83 L955.8,833.11 L956.4,834.38 L956.9,835.65 L957.4,836.93 L957.9,838.21 L958.4,839.51 L958.8,840.82 L959.3,842.13 L959.7,843.46 L960.2,844.78 L960.6,846.12 L961.0,847.46 L961.5,848.81 L961.9,850.16 L962.3,851.52 L962.7,852.88 L963.1,854.24 L963.5,855.61 L963.9,856.98 L964.3,858.34 L964.7,859.71 L965.2,861.08 L965.6,862.45 L966.0,863.82 L966.4,865.19 L966.9,866.56 L967.3,867.92 L967.7,869.28 L968.2,870.63 L968.7,871.98 L969.2,873.33 L969.6,874.67 L970.1,876.00 L970.7,877.33 L971.2,878.65 L971.7,879.96 L972.3,881.27 L972.9,882.56 L973.5,883.85 L974.1,885.12 L974.7,886.39 L975.4,887.64 L976.1,888.88 L976.8,890.11 L977.5,891.33 L978.2,892.53 L979.0,893.71 L979.8,894.89 L980.6,896.04 L981.5,897.18 L982.3,898.30 L983.2,899.40 L984.1,900.48 L985.1,901.54 L986.0,902.58 L987.0,903.59 L988.0,904.58 L989.0,905.55 L990.0,906.49 L991.1,907.40 L992.2,908.28 L993.3,909.14 L994.4,909.97 L995.5,910.77 L996.6,911.53 L997.8,912.27 L999.0,912.97 L1000.2,913.63 L1001.4,914.26 L1002.6,914.86 L1003.9,915.42 L1005.2,915.94 L1006.4,916.42 L1007.7,916.86 L1009.0,917.26 L1010.4,917.62 L1011.7,917.94 L1013.0,918.20 L1014.4,918.20 L1015.8,918.20 L1017.2,918.20 L1018.6,918.20 L1020.0,918.20 L1021.4,918.20 L1022.8,918.20 L1024.2,918.20 L1025.7,918.20 L1027.1,918.20 L1028.5,918.20 L1030.0,918.20 L1031.4,918.20 L1032.9,918.20 L1034.4,918.20 L1035.8,918.20 L1037.3,918.20 L1038.8,918.20 L1040.2,918.20 L1041.7,918.20 L1043.1,918.20 L1044.6,918.20 L1046.1,918.20 L1047.5,918.20 L1049.0,918.19 L1050.4,918.12 L1051.8,918.06 L1053.3,918.01 L1054.7,917.96 L1056.2,917.92 L1057.6,917.89 L1059.0,917.85 L1060.5,917.82 L1061.9,917.80 L1063.3,917.78 L1064.7,917.77 L1066.1,917.75 L1067.6,917.74 L1069.0,917.74 L1070.4,917.74 L1071.8,917.74 L1073.2,917.74 L1074.6,917.75 L1076.0,917.76 L1077.4,917.77 L1078.9,917.79 L1080.3,917.80 L1081.7,917.82 L1083.1,917.84 L1084.5,917.86 L1085.9,917.88 L1087.3,917.91 L1088.7,917.93 L1090.1,917.96 L1091.5,917.98 L1092.9,918.01 L1094.3,918.04 L1095.7,918.06 L1097.1,918.09 L1098.5,918.11 L1099.9,918.14 L1101.3,918.16 L1102.7,918.19 L1104.1,918.20 L1105.5,918.20 L1106.9,918.20 L1108.3,918.20 L1109.7,918.20 L1111.1,918.20 L1112.5,918.20 L1114.0,918.20 L1115.4,918.20 L1116.8,918.20 L1118.2,918.20 L1119.6,918.20 L1121.0,918.20 L1122.4,918.20 L1123.8,918.20 L1125.2,918.20 L1126.7,918.20 L1128.1,918.20 L1129.5,918.20 L1130.9,918.20 L1132.3,918.20 L1133.7,918.20 L1135.1,918.20 L1136.6,918.20 L1138.0,918.20 L1139.4,918.20 L1140.8,918.20 L1142.2,918.20 L1143.7,918.20 L1145.1,918.20 L1146.5,918.20 L1147.9,918.20 L1149.3,918.20 L1150.7,918.20 L1152.2,918.20 L1153.6,918.20 L1155.0,918.20 L1156.4,918.20 L1157.8,918.20 L1159.3,918.20 L1160.7,918.20 L1162.1,918.20 L1163.5,918.20 L1164.9,918.20 L1166.4,918.20 L1167.8,918.20 L1169.2,918.20 L1170.6,918.20 L1172.1,918.20 L1173.5,918.20 L1174.9,918.19 L1176.3,918.18 L1177.7,918.17 L1179.2,918.16 L1180.6,918.15 L1182.0,918.14 L1183.4,918.14 L1184.8,918.13 L1186.3,918.12 L1187.7,918.11 L1189.1,918.10 L1190.5,918.10 L1191.9,918.09 L1193.4,918.08 L1194.8,918.08 L1196.2,918.07 L1197.6,918.07 L1199.0,918.06 L1200.4,918.06 L1201.9,918.06 L1203.3,918.06 L1204.7,918.05 L1206.1,918.05 L1207.5,918.05 L1208.9,918.05 L1210.4,918.06 L1211.8,918.06 L1213.2,918.06 L1214.6,918.07 L1216.0,918.07 L1217.4,918.08 L1218.8,918.09 L1220.2,918.10 L1221.6,918.11 L1223.1,918.12 L1224.5,918.13 L1225.9,918.14 L1227.3,918.16 L1228.7,918.17 L1230.1,918.19 L1231.5,918.20 L1232.9,918.20 L1234.3,918.20 L1235.7,918.20 L1237.1,918.20 L1238.5,918.20 L1239.9,918.20" fill="none" stroke="#7F0A80" stroke-width="3.2" stroke-linejoin="round"/>
<path d="M89.9,918.20 L90.6,918.20 L91.3,918.20 L92.0,918.20 L92.7,918.20 L93.4,918.20 L94.1,918.20 L94.8,918.20 L95.5,918.20 L96.2,918.20 L96.9,918.20 L97.6,918.20 L98.3,918.20 L99.0,918.20 L99.7,918.20 L100.4,918.20 L101.1,918.20 L101.8,918.20 L102.5,918.20 L103.2,918.20 L103.9,918.20 L104.6,918.20 L105.3,918.20 L106.0,918.20 L106.7,918.20 L107.4,918.20 L108.1,918.20 L108.8,918.20 L109.5,918.20 L110.2,918.20 L110.9,918.20 L111.6,918.20 L112.3,918.20 L113.0,918.20 L113.7,918.20 L114.4,918.20 L115.1,918.20 L115.8,918.20 L116.5,918.20 L117.2,918.20 L117.9,918.20 L118.6,918.20 L119.3,918.20 L120.0,918.20 L120.7,918.20 L121.4,918.20 L122.1,918.20 L122.8,918.20 L123.5,918.20 L124.2,918.20 L124.9,918.20 L125.6,918.20 L126.3,918.20 L127.0,918.20 L127.7,918.19 L128.4,918.19 L129.1,918.19 L129.8,918.19 L130.5,918.19 L131.2,918.19 L131.9,918.19 L132.6,918.19 L133.3,918.18 L134.0,918.18 L134.7,918.18 L135.4,918.18 L136.1,918.18 L136.8,918.18 L137.5,918.18 L138.2,918.18 L138.9,918.18 L139.6,918.18 L140.3,918.17 L141.0,918.17 L141.7,918.17 L142.4,918.17 L143.1,918.17 L143.8,918.17 L144.5,918.17 L145.1,918.17 L145.8,918.17 L146.5,918.17 L147.2,918.17 L147.9,918.16 L148.6,918.16 L149.3,918.16 L150.0,918.16 L150.7,918.16 L151.4,918.16 L152.1,918.16 L152.8,918.16 L153.5,918.16 L154.2,918.16 L154.9,918.16 L155.6,918.16 L156.3,918.16 L157.0,918.16 L157.7,918.16 L158.4,918.15 L159.1,918.15 L159.8,918.15 L160.5,918.15 L161.2,918.15 L161.9,918.15 L162.6,918.15 L163.3,918.15 L164.0,918.15 L164.7,918.15 L165.4,918.15 L166.1,918.15 L166.8,918.15 L167.5,918.15 L168.2,918.15 L168.9,918.15 L169.6,918.15 L170.3,918.15 L171.0,918.15 L171.7,918.15 L172.4,918.15 L173.1,918.14 L173.8,918.14 L174.5,918.14 L175.2,918.14 L175.9,918.14 L176.6,918.14 L177.3,918.14 L178.0,918.14 L178.7,918.14 L179.4,918.14 L180.1,918.14 L180.8,918.14 L181.5,918.14 L182.2,918.14 L182.8,918.14 L183.5,918.14 L184.2,918.14 L184.9,918.14 L185.6,918.14 L186.3,918.14 L187.0,918.14 L187.7,918.14 L188.4,918.14 L189.1,918.14 L189.8,918.14 L190.5,918.14 L191.2,918.14 L191.9,918.14 L192.6,918.14 L193.3,918.14 L194.0,918.14 L194.7,918.14 L195.4,918.14 L196.1,918.14 L196.8,918.14 L197.5,918.14 L198.2,918.14 L198.9,918.14 L199.6,918.14 L200.3,918.14 L201.0,918.14 L201.7,918.14 L202.4,918.14 L203.1,918.14 L203.8,918.14 L204.5,918.14 L205.2,918.14 L205.9,918.14 L206.6,918.14 L207.3,918.14 L208.0,918.14 L208.7,918.14 L209.4,918.14 L210.1,918.14 L210.8,918.14 L211.5,918.14 L212.2,918.14 L212.9,918.14 L213.5,918.14 L214.2,918.14 L214.9,918.14 L215.6,918.14 L216.3,918.14 L217.0,918.14 L217.7,918.15 L218.4,918.15 L219.1,918.15 L219.8,918.15 L220.5,918.15 L221.2,918.15 L221.9,918.15 L222.6,918.15 L223.3,918.15 L224.0,918.15 L224.7,918.15 L225.4,918.15 L226.1,918.15 L226.8,918.15 L227.5,918.15 L228.2,918.15 L228.9,918.15 L229.6,918.15 L230.3,918.15 L231.0,918.15 L231.7,918.15 L232.4,918.15 L233.1,918.15 L233.8,918.15 L234.5,918.15 L235.2,918.15 L235.9,918.15 L236.6,918.16 L237.3,918.16 L238.0,918.16 L238.7,918.16 L239.4,918.16 L240.1,918.16 L240.7,918.16 L241.4,918.16 L242.1,918.16 L242.8,918.16 L243.5,918.16 L244.2,918.16 L244.9,918.16 L245.6,918.16 L246.3,918.16 L247.0,918.16 L247.7,918.16 L248.4,918.16 L249.1,918.16 L249.8,918.17 L250.5,918.17 L251.2,918.17 L251.9,918.17 L252.6,918.17 L253.3,918.17 L254.0,918.17 L254.7,918.17 L255.4,918.17 L256.1,918.17 L256.8,918.17 L257.5,918.17 L258.2,918.17 L258.9,918.17 L259.6,918.17 L260.3,918.17 L261.0,918.18 L261.7,918.18 L262.4,918.18 L263.1,918.18 L263.8,918.18 L264.5,918.18 L265.2,918.18 L265.9,918.18 L266.5,918.18 L267.2,918.18 L267.9,918.18 L268.6,918.18 L269.3,918.18 L270.0,918.18 L270.7,918.18 L271.4,918.19 L272.1,918.19 L272.8,918.19 L273.5,918.19 L274.2,918.19 L274.9,918.19 L275.6,918.19 L276.3,918.19 L277.0,918.19 L277.7,918.19 L278.4,918.19 L279.1,918.19 L279.8,918.19 L280.5,918.19 L281.2,918.20 L281.9,918.20 L282.6,918.20 L283.3,918.20 L284.0,918.20 L284.7,918.20 L285.4,918.20 L286.1,918.20 L286.8,918.20 L287.5,918.20 L288.2,918.20 L288.9,918.20 L289.6,918.20 L290.3,918.20 L291.0,918.20 L291.6,918.20 L292.3,918.20 L293.0,918.20 L293.7,918.20 L294.4,918.20 L295.1,918.20 L295.8,918.20 L296.5,918.20 L297.2,918.20 L297.9,918.20 L298.6,918.20 L299.3,918.20 L300.0,918.20 L300.7,918.20 L301.4,918.20 L302.1,918.20 L302.8,918.20 L303.5,918.20 L304.2,918.20 L304.9,918.20 L305.6,918.20 L306.3,918.20 L307.0,918.20 L307.7,918.20 L308.4,918.20 L309.1,918.20 L309.8,918.20 L310.5,918.20 L311.2,918.20 L311.9,918.20 L312.6,918.20 L313.3,918.20 L314.0,918.20 L314.7,918.20 L315.4,918.20 L316.1,918.20 L316.7,918.20 L317.4,918.20 L318.1,918.20 L318.8,918.20 L319.5,918.20 L320.2,918.20 L320.9,918.20 L321.6,918.20 L322.3,918.20 L323.0,918.20 L323.7,918.20 L324.4,918.20 L325.1,918.20 L325.8,918.20 L326.5,918.20 L327.2,918.20 L327.9,918.20 L328.6,918.20 L329.3,918.20 L330.0,918.20 L330.7,918.20 L331.4,918.20 L332.1,918.20 L332.8,918.20 L333.5,918.20 L334.2,918.20 L334.9,918.20 L335.6,918.20 L336.3,918.20 L337.0,918.20 L337.7,918.20 L338.4,918.20 L339.1,918.20 L339.8,918.20 L340.5,918.20 L341.2,918.20 L341.9,918.20 L342.5,918.20 L343.2,918.20 L343.9,918.20 L344.6,918.20 L345.3,918.20 L346.0,918.20 L346.7,918.20 L347.4,918.20 L348.1,918.20 L348.8,918.20 L349.5,918.20 L350.2,918.20 L350.9,918.20 L351.6,918.20 L352.3,918.20 L353.0,918.20 L353.7,918.20 L354.4,918.20 L355.1,918.20 L355.8,918.20 L356.5,918.20 L357.2,918.20 L357.9,918.20 L358.6,918.20 L359.3,918.20 L360.0,918.20 L360.7,918.20 L361.4,918.20 L362.1,918.20 L362.8,918.20 L363.5,918.20 L364.2,918.20 L364.9,918.20 L365.6,918.20 L366.3,918.20 L367.0,918.20 L367.7,918.20 L368.4,918.20 L369.0,918.20 L369.7,918.20 L370.4,918.20 L371.1,918.20 L371.8,918.20 L372.5,918.20 L373.2,918.20 L373.9,918.20 L374.6,918.20 L375.3,918.20 L376.0,918.20 L376.7,918.20 L377.4,918.20 L378.1,918.20 L378.8,918.20 L379.5,918.20 L380.2,918.20 L380.9,918.20 L381.6,918.20 L382.3,918.20 L383.0,918.20 L383.7,918.20 L384.4,918.20 L385.1,918.20 L385.8,918.20 L386.5,918.20 L387.2,918.20 L387.9,918.20 L388.6,918.20 L389.3,918.20 L390.0,918.20 L390.7,918.20 L391.4,918.20 L392.1,918.20 L392.8,918.20 L393.5,918.20 L394.2,918.20 L394.9,918.20 L395.6,918.20 L396.3,918.20 L397.0,918.20 L397.7,918.20 L398.4,918.20 L399.0,918.20 L399.7,918.20 L400.4,918.20 L401.1,918.20 L401.8,918.20 L402.5,918.20 L403.2,918.20 L403.9,918.20 L404.6,918.20 L405.3,918.20 L406.0,918.20 L406.7,918.20 L407.4,918.20 L408.1,918.20 L408.8,918.20 L409.5,918.20 L410.2,918.20 L410.9,918.20 L411.6,918.20 L412.3,918.20 L413.0,918.20 L413.7,918.20 L414.4,918.20 L415.1,918.20 L415.8,918.20 L416.5,918.20 L417.2,918.20 L417.9,918.20 L418.6,918.20 L419.3,918.20 L420.0,918.20 L420.7,918.20 L421.4,918.20 L422.1,918.20 L422.8,918.20 L423.5,918.20 L424.2,918.20 L424.9,918.20 L425.6,918.20 L426.3,918.20 L427.0,918.20 L427.7,918.20 L428.4,918.20 L429.1,918.20 L429.8,918.20 L430.5,918.20 L431.2,918.20 L431.9,918.20 L432.6,918.20 L433.3,918.20 L433.9,918.20 L434.6,918.20 L435.3,918.20 L436.0,918.20 L436.7,918.20 L437.4,918.20 L438.1,918.20 L438.8,918.20 L439.5,918.20 L440.2,918.20 L440.9,918.20 L441.6,918.20 L442.3,918.20 L443.0,918.20 L443.7,918.20 L444.4,918.20 L445.1,918.20 L445.8,918.20 L446.5,918.20 L447.2,918.20 L447.9,918.20 L448.6,918.20 L449.3,918.20 L450.0,918.20 L450.7,918.20 L451.4,918.20 L452.1,918.20 L452.8,918.20 L453.5,918.20 L454.2,918.20 L454.9,918.20 L455.6,918.20 L456.3,918.20 L457.0,918.20 L457.7,918.20 L458.4,918.20 L459.1,918.20 L459.8,918.20 L460.5,918.20 L461.2,918.20 L461.9,918.20 L462.6,918.20 L463.3,918.20 L464.0,918.20 L464.7,918.20 L465.4,918.20 L466.1,918.20 L466.8,918.20 L467.5,918.20 L468.2,918.20 L468.9,918.20 L469.6,918.20 L470.3,918.20 L471.0,918.20 L471.7,918.20 L472.4,918.20 L473.1,918.20 L473.8,918.20 L474.5,918.20 L475.2,918.20 L475.9,918.20 L476.6,918.20 L477.3,918.20 L478.0,918.20 L478.7,918.20 L479.4,918.20 L480.1,918.20 L480.8,918.20 L481.5,918.20 L482.2,918.20 L482.9,918.20 L483.6,918.20 L484.3,918.20 L485.0,918.20 L485.7,918.20 L486.4,918.20 L487.1,918.20 L487.8,918.20 L488.5,918.20 L489.1,918.20 L489.8,918.20 L490.5,918.19 L491.2,918.19 L491.9,918.19 L492.6,918.19 L493.3,918.19 L494.0,918.18 L494.7,918.18 L495.4,918.18 L496.1,918.18 L496.8,918.18 L497.5,918.18 L498.2,918.17 L498.9,918.17 L499.6,918.17 L500.3,918.17 L501.0,918.17 L501.7,918.16 L502.4,918.16 L503.1,918.16 L503.8,918.16 L504.5,918.15 L505.2,918.15 L505.9,918.15 L506.6,918.15 L507.3,918.15 L508.0,918.14 L508.7,918.14 L509.4,918.14 L510.1,918.14 L510.8,918.13 L511.5,918.13 L512.2,918.13 L512.9,918.12 L513.6,918.12 L514.3,918.12 L515.0,918.12 L515.7,918.11 L516.4,918.11 L517.1,918.11 L517.8,918.10 L518.5,918.10 L519.2,918.10 L519.9,918.09 L520.6,918.09 L521.3,918.09 L522.0,918.08 L522.7,918.08 L523.4,918.08 L524.1,918.07 L524.8,918.07 L525.5,918.07 L526.2,918.06 L526.9,918.06 L527.6,918.05 L528.3,918.05 L529.0,918.05 L529.7,918.04 L530.4,918.04 L531.1,918.03 L531.8,918.03 L532.5,918.03 L533.2,918.02 L533.9,918.02 L534.6,918.01 L535.3,918.01 L536.0,918.00 L536.7,918.00 L537.4,917.99 L538.1,917.99 L538.8,917.98 L539.5,917.98 L540.2,917.97 L540.9,917.97 L541.6,917.96 L542.3,917.96 L543.0,917.95 L543.7,917.94 L544.4,917.94 L545.1,917.93 L545.8,917.93 L546.5,917.92 L547.2,917.92 L547.9,917.91 L548.6,917.90 L549.3,917.90 L550.0,917.89 L550.7,917.88 L551.4,917.88 L552.1,917.87 L552.8,917.86 L553.5,917.86 L554.2,917.85 L554.9,917.84 L555.6,917.83 L556.3,917.83 L557.0,917.82 L557.7,917.81 L558.4,917.80 L559.1,917.80 L559.8,917.79 L560.5,917.78 L561.2,917.77 L561.9,917.76 L562.6,917.76 L563.3,917.75 L564.0,917.74 L564.7,917.73 L565.3,917.72 L566.0,917.71 L566.7,917.70 L567.4,917.69 L568.1,917.68 L568.8,917.68 L569.5,917.67 L570.2,917.66 L570.9,917.65 L571.6,917.64 L572.3,917.63 L573.0,917.62 L573.7,917.61 L574.4,917.60 L575.1,917.59 L575.8,917.58 L576.5,917.56 L577.2,917.55 L577.9,917.54 L578.6,917.53 L579.3,917.52 L580.0,917.51 L580.7,917.50 L581.4,917.49 L582.1,917.47 L582.8,917.46 L583.5,917.45 L584.2,917.44 L584.9,917.43 L585.6,917.41 L586.3,917.40 L587.0,917.39 L587.7,917.37 L588.4,917.36 L589.1,917.35 L589.7,917.33 L590.4,917.32 L591.1,917.31 L591.8,917.29 L592.5,917.28 L593.2,917.27 L593.9,917.25 L594.6,917.24 L595.3,917.22 L596.0,917.21 L596.7,917.19 L597.4,917.18 L598.1,917.16 L598.8,917.15 L599.5,917.13 L600.2,917.12 L600.9,917.10 L601.6,917.08 L602.3,917.07 L603.0,917.05 L603.7,917.04 L604.4,917.02 L605.0,917.00 L605.7,916.99 L606.4,916.97 L607.1,916.95 L607.8,916.93 L608.5,916.92 L609.2,916.90 L609.9,916.88 L610.6,916.86 L611.3,916.84 L612.0,916.83 L612.7,916.81 L613.4,916.79 L614.1,916.77 L614.8,916.75 L615.5,916.73 L616.2,916.71 L616.8,916.69 L617.5,916.67 L618.2,916.65 L618.9,916.63 L619.6,916.61 L620.3,916.59 L621.0,916.57 L621.7,916.55 L622.4,916.53 L623.1,916.51 L623.8,916.48 L624.5,916.46 L625.2,916.44 L625.9,916.42 L626.5,916.40 L627.2,916.37 L627.9,916.35 L628.6,916.33 L629.3,916.30 L630.0,916.28 L630.7,916.26 L631.4,916.23 L632.1,916.21 L632.8,916.18 L633.5,916.16 L634.2,916.13 L634.9,916.11 L635.5,916.08 L636.2,916.06 L636.9,916.03 L637.6,916.01 L638.3,915.98 L639.0,915.95 L639.7,915.93 L640.4,915.90 L641.1,915.87 L641.8,915.84 L642.5,915.81 L643.1,915.79 L643.8,915.76 L644.5,915.73 L645.2,915.70 L645.9,915.67 L646.6,915.64 L647.3,915.61 L648.0,915.58 L648.7,915.54 L649.4,915.51 L650.1,915.48 L650.7,915.45 L651.4,915.42 L652.1,915.38 L652.8,915.35 L653.5,915.31 L654.2,915.28 L654.9,915.25 L655.6,915.21 L656.3,915.17 L657.0,915.14 L657.7,915.10 L658.3,915.06 L659.0,915.03 L659.7,914.99 L660.4,914.95 L661.1,914.91 L661.8,914.87 L662.5,914.83 L663.2,914.79 L663.9,914.75 L664.6,914.71 L665.2,914.67 L665.9,914.63 L666.6,914.59 L667.3,914.54 L668.0,914.50 L668.7,914.45 L669.4,914.41 L670.1,914.37 L670.8,914.32 L671.5,914.27 L672.2,914.23 L672.8,914.18 L673.5,914.13 L674.2,914.08 L674.9,914.03 L675.6,913.99 L676.3,913.94 L677.0,913.88 L677.7,913.83 L678.4,913.78 L679.1,913.73 L679.8,913.68 L680.5,913.62 L681.1,913.57 L681.8,913.51 L682.5,913.46 L683.2,913.40 L683.9,913.35 L684.6,913.29 L685.3,913.23 L686.0,913.17 L686.7,913.11 L687.4,913.05 L688.1,912.99 L688.8,912.93 L689.5,912.87 L690.1,912.81 L690.8,912.75 L691.5,912.68 L692.2,912.62 L692.9,912.55 L693.6,912.49 L694.3,912.42 L695.0,912.35 L695.7,912.29 L696.4,912.22 L697.1,912.15 L697.8,912.08 L698.5,912.01 L699.2,911.94 L699.9,911.86 L700.6,911.79 L701.3,911.72 L701.9,911.64 L702.6,911.57 L703.3,911.49 L704.0,911.42 L704.7,911.34 L705.4,911.26 L706.1,911.18 L706.8,911.10 L707.5,911.02 L708.2,910.94 L708.9,910.86 L709.6,910.77 L710.3,910.69 L711.0,910.61 L711.7,910.52 L712.4,910.43 L713.1,910.35 L713.8,910.26 L714.5,910.17 L715.2,910.08 L715.9,909.99 L716.6,909.90 L717.3,909.81 L718.0,909.71 L718.7,909.62 L719.4,909.52 L720.1,909.43 L720.8,909.33 L721.5,909.23 L722.2,909.14 L722.9,909.04 L723.6,908.94 L724.3,908.84 L725.0,908.73 L725.7,908.63 L726.4,908.53 L727.1,908.42 L727.8,908.32 L728.5,908.21 L729.2,908.10 L729.9,907.99 L730.6,907.88 L731.3,907.77 L732.0,907.66 L732.7,907.55 L733.4,907.44 L734.1,907.32 L734.8,907.21 L735.5,907.09 L736.2,906.97 L736.9,906.85 L737.6,906.73 L738.3,906.61 L739.0,906.49 L739.7,906.37 L740.4,906.25 L741.1,906.12 L741.8,906.00 L742.5,905.87 L743.2,905.74 L743.9,905.61 L744.6,905.48 L745.3,905.35 L746.0,905.22 L746.8,905.08 L747.5,904.95 L748.2,904.81 L748.9,904.67 L749.6,904.53 L750.3,904.39 L751.0,904.25 L751.7,904.10 L752.4,903.96 L753.1,903.81 L753.8,903.66 L754.5,903.51 L755.2,903.35 L755.9,903.20 L756.6,903.04 L757.3,902.88 L758.0,902.72 L758.7,902.56 L759.4,902.39 L760.1,902.23 L760.8,902.06 L761.5,901.89 L762.2,901.71 L762.9,901.54 L763.6,901.36 L764.2,901.18 L764.9,900.99 L765.6,900.81 L766.3,900.62 L767.0,900.43 L767.7,900.24 L768.4,900.04 L769.1,899.85 L769.7,899.65 L770.4,899.44 L771.1,899.24 L771.8,899.03 L772.4,898.82 L773.1,898.60 L773.8,898.39 L774.5,898.17 L775.1,897.94 L775.8,897.72 L776.5,897.49 L777.1,897.26 L777.8,897.02 L778.4,896.78 L779.1,896.54 L779.8,896.30 L780.4,896.05 L781.1,895.80 L781.7,895.55 L782.4,895.29 L783.0,895.03 L783.7,894.76 L784.3,894.50 L784.9,894.22 L785.6,893.95 L786.2,893.67 L786.8,893.39 L787.5,893.10 L788.1,892.81 L788.7,892.52 L789.3,892.22 L790.0,891.92 L790.6,891.62 L791.2,891.31 L791.8,890.99 L792.4,890.68 L793.0,890.36 L793.6,890.03 L794.2,889.71 L794.8,889.37 L795.4,889.04 L796.0,888.70 L796.6,888.36 L797.2,888.01 L797.8,887.66 L798.4,887.30 L799.0,886.95 L799.5,886.58 L800.1,886.22 L800.7,885.85 L801.3,885.48 L801.8,885.10 L802.4,884.72 L803.0,884.34 L803.5,883.96 L804.1,883.57 L804.6,883.17 L805.2,882.78 L805.7,882.38 L806.3,881.98 L806.8,881.57 L807.4,881.16 L807.9,880.75 L808.5,880.33 L809.0,879.91 L809.5,879.49 L810.1,879.07 L810.6,878.64 L811.1,878.21 L811.6,877.77 L812.2,877.34 L812.7,876.90 L813.2,876.45 L813.7,876.01 L814.2,875.56 L814.8,875.10 L815.3,874.65 L815.8,874.19 L816.3,873.73 L816.8,873.27 L817.3,872.80 L817.8,872.33 L818.3,871.86 L818.8,871.38 L819.3,870.91 L819.7,870.43 L820.2,869.94 L820.7,869.46 L821.2,868.97 L821.7,868.48 L822.2,867.99 L822.6,867.49 L823.1,866.99 L823.6,866.49 L824.1,865.99 L824.5,865.48 L825.0,864.97 L825.5,864.46 L825.9,863.95 L826.4,863.44 L826.8,862.92 L827.3,862.40 L827.7,861.88 L828.2,861.35 L828.6,860.83 L829.1,860.30 L829.5,859.77 L830.0,859.24 L830.4,858.70 L830.9,858.16 L831.3,857.62 L831.7,857.08 L832.2,856.54 L832.6,855.99 L833.0,855.45 L833.5,854.90 L833.9,854.35 L834.3,853.79 L834.7,853.24 L835.1,852.68 L835.6,852.12 L836.0,851.56 L836.4,851.00 L836.8,850.44 L837.2,849.87 L837.6,849.31 L838.0,848.74 L838.4,848.17 L838.9,847.59 L839.3,847.02 L839.7,846.44 L840.1,845.87 L840.5,845.29 L840.8,844.71 L841.2,844.13 L841.6,843.54 L842.0,842.96 L842.4,842.37 L842.8,841.79 L843.2,841.20 L843.6,840.61 L843.9,840.02 L844.3,839.43 L844.7,838.83 L845.1,838.24 L845.5,837.64 L845.8,837.04 L846.2,836.44 L846.6,835.84 L846.9,835.24 L847.3,834.64 L847.7,834.04 L848.0,833.43 L848.4,832.83 L848.8,832.22 L849.1,831.62 L849.5,831.01 L849.8,830.40 L850.2,829.79 L850.5,829.18 L850.9,828.57 L851.2,827.95 L851.6,827.34 L851.9,826.73 L852.3,826.11 L852.6,825.50 L853.0,824.88 L853.3,824.26 L853.6,823.65 L854.0,823.03 L854.3,822.41 L854.7,821.79 L855.0,821.17 L855.3,820.55 L855.7,819.93 L856.0,819.31 L856.3,818.68 L856.6,818.06 L857.0,817.44 L857.3,816.81 L857.6,816.19 L857.9,815.57 L858.3,814.94 L858.6,814.32 L858.9,813.69 L859.2,813.06 L859.5,812.43 L859.8,811.81 L860.1,811.18 L860.5,810.55 L860.8,809.92 L861.1,809.29 L861.4,808.66 L861.7,808.03 L862.0,807.40 L862.3,806.77 L862.6,806.13 L862.9,805.50 L863.2,804.87 L863.5,804.24 L863.8,803.60 L864.1,802.97 L864.4,802.33 L864.7,801.70 L865.0,801.06 L865.3,800.42 L865.5,799.79 L865.8,799.15 L866.1,798.51 L866.4,797.87 L866.7,797.23 L867.0,796.59 L867.3,795.95 L867.5,795.31 L867.8,794.67 L868.1,794.03 L868.4,793.39 L868.6,792.75 L868.9,792.11 L869.2,791.46 L869.5,790.82 L869.7,790.18 L870.0,789.53 L870.3,788.89 L870.5,788.24 L870.8,787.60 L871.1,786.95 L871.3,786.31 L871.6,785.66 L871.9,785.01 L872.1,784.37 L872.4,783.72 L872.6,783.07 L872.9,782.42 L873.2,781.77 L873.4,781.12 L873.7,780.47 L873.9,779.82 L874.2,779.17 L874.4,778.52 L874.7,777.87 L874.9,777.22 L875.2,776.56 L875.4,775.91 L875.7,775.26 L875.9,774.61 L876.1,773.95 L876.4,773.30 L876.6,772.64 L876.9,771.99 L877.1,771.33 L877.3,770.68 L877.6,770.02 L877.8,769.36 L878.0,768.71 L878.3,768.05 L878.5,767.39 L878.7,766.74 L879.0,766.08 L879.2,765.42 L879.4,764.76 L879.7,764.10 L879.9,763.44 L880.1,762.78 L880.3,762.12 L880.6,761.46 L880.8,760.80 L881.0,760.14 L881.2,759.48 L881.4,758.81 L881.7,758.15 L881.9,757.49 L882.1,756.83 L882.3,756.16 L882.5,755.50 L882.7,754.84 L882.9,754.17 L883.2,753.51 L883.4,752.84 L883.6,752.18 L883.8,751.51 L884.0,750.85 L884.2,750.18 L884.4,749.51 L884.6,748.85 L884.8,748.18 L885.0,747.51 L885.2,746.85 L885.4,746.18 L885.6,745.51 L885.8,744.84 L886.0,744.17 L886.2,743.50 L886.4,742.83 L886.6,742.17 L886.8,741.50 L887.0,740.83 L887.2,740.15 L887.4,739.48 L887.6,738.81 L887.8,738.14 L888.0,737.47 L888.2,736.80 L888.3,736.13 L888.5,735.46 L888.7,734.78 L888.9,734.11 L889.1,733.44 L889.3,732.76 L889.5,732.09 L889.6,731.42 L889.8,730.74 L890.0,730.07 L890.2,729.39 L890.4,728.72 L890.5,728.04 L890.7,727.37 L890.9,726.69 L891.1,726.02 L891.2,725.34 L891.4,724.67 L891.6,723.99 L891.8,723.31 L891.9,722.64 L892.1,721.96 L892.3,721.28 L892.5,720.61 L892.6,719.93 L892.8,719.25 L893.0,718.57 L893.1,717.89 L893.3,717.22 L893.5,716.54 L893.6,715.86 L893.8,715.18 L894.0,714.50 L894.1,713.82 L894.3,713.14 L894.5,712.46 L894.6,711.78 L894.8,711.10 L894.9,710.42 L895.1,709.74 L895.3,709.06 L895.4,708.38 L895.6,707.70 L895.7,707.02 L895.9,706.34 L896.0,705.66 L896.2,704.98 L896.3,704.29 L896.5,703.61 L896.7,702.93 L896.8,702.25 L897.0,701.56 L897.1,700.88 L897.3,700.20 L897.4,699.52 L897.6,698.83 L897.7,698.15 L897.9,697.47 L898.0,696.78 L898.2,696.10 L898.3,695.42 L898.4,694.73 L898.6,694.05 L898.7,693.37 L898.9,692.68 L899.0,692.00 L899.2,691.31 L899.3,690.63 L899.4,689.94 L899.6,689.26 L899.7,688.57 L899.9,687.89 L900.0,687.20 L900.2,686.52 L900.3,685.83 L900.4,685.15 L900.6,684.46 L900.7,683.78 L900.8,683.09 L901.0,682.41 L901.1,681.72 L901.2,681.03 L901.4,680.35 L901.5,679.66 L901.7,678.98 L901.8,678.29 L901.9,677.60 L902.1,676.92 L902.2,676.23 L902.3,675.54 L902.4,674.86 L902.6,674.17 L902.7,673.48 L902.8,672.80 L903.0,672.11 L903.1,671.42 L903.2,670.74 L903.4,670.05 L903.5,669.36 L903.6,668.68 L903.7,667.99 L903.9,667.30 L904.0,666.61 L904.1,665.93 L904.2,665.24 L904.4,664.55 L904.5,663.86 L904.6,663.18 L904.7,662.49 L904.9,661.80 L905.0,661.11 L905.1,660.43 L905.2,659.74 L905.4,659.05 L905.5,658.36 L905.6,657.68 L905.7,656.99 L905.8,656.30 L906.0,655.61 L906.1,654.93 L906.2,654.24 L906.3,653.55 L906.4,652.86 L906.6,652.17 L906.7,651.49 L906.8,650.80 L906.9,650.11 L907.0,649.42 L907.1,648.74 L907.3,648.05 L907.4,647.36 L907.5,646.67 L907.6,645.98 L907.7,645.30 L907.8,644.61 L908.0,643.92 L908.1,643.23 L908.2,642.54 L908.3,641.86 L908.4,641.17 L908.5,640.48 L908.6,639.79 L908.8,639.10 L908.9,638.41 L909.0,637.73 L909.1,637.04 L909.2,636.35 L909.3,635.66 L909.4,634.97 L909.5,634.28 L909.7,633.60 L909.8,632.91 L909.9,632.22 L910.0,631.53 L910.1,630.84 L910.2,630.15 L910.3,629.47 L910.4,628.78 L910.5,628.09 L910.6,627.40 L910.7,626.71 L910.9,626.02 L911.0,625.33 L911.1,624.65 L911.2,623.96 L911.3,623.27 L911.4,622.58 L911.5,621.89 L911.6,621.20 L911.7,620.51 L911.8,619.82 L911.9,619.14 L912.0,618.45 L912.1,617.76 L912.2,617.07 L912.3,616.38 L912.4,615.69 L912.5,615.00 L912.6,614.31 L912.8,613.62 L912.9,612.94 L913.0,612.25 L913.1,611.56 L913.2,610.87 L913.3,610.18 L913.4,609.49 L913.5,608.80 L913.6,608.11 L913.7,607.42 L913.8,606.73 L913.9,606.05 L914.0,605.36 L914.1,604.67 L914.2,603.98 L914.3,603.29 L914.4,602.60 L914.5,601.91 L914.6,601.22 L914.7,600.53 L914.8,599.84 L914.9,599.15 L915.0,598.46 L915.1,597.77 L915.2,597.08 L915.3,596.40 L915.4,595.71 L915.5,595.02 L915.6,594.33 L915.7,593.64 L915.8,592.95 L915.9,592.26 L916.0,591.57 L916.1,590.88 L916.1,590.19 L916.2,589.50 L916.3,588.81 L916.4,588.12 L916.5,587.43 L916.6,586.74 L916.7,586.05 L916.8,585.36 L916.9,584.67 L917.0,583.98 L917.1,583.29 L917.2,582.60 L917.3,581.91 L917.4,581.22 L917.5,580.53 L917.6,579.84 L917.7,579.16 L917.8,578.47 L917.9,577.78 L918.0,577.09 L918.1,576.40 L918.2,575.71 L918.2,575.02 L918.3,574.33 L918.4,573.64 L918.5,572.95 L918.6,572.26 L918.7,571.57 L918.8,570.88 L918.9,570.19 L919.0,569.50 L919.1,568.81 L919.2,568.12 L919.3,567.43 L919.4,566.74 L919.5,566.05 L919.5,565.36 L919.6,564.67 L919.7,563.97 L919.8,563.28 L919.9,562.59 L920.0,561.90 L920.1,561.21 L920.2,560.52 L920.3,559.83 L920.4,559.14 L920.5,558.45 L920.6,557.76 L920.7,557.07 L920.7,556.38 L920.8,555.69 L920.9,555.00 L921.0,554.31 L921.1,553.62 L921.2,552.93 L921.3,552.24 L921.4,551.55 L921.5,550.86 L921.6,550.17 L921.7,549.48 L921.7,548.79 L921.8,548.10 L921.9,547.41 L922.0,546.72 L922.1,546.02 L922.2,545.33 L922.3,544.64 L922.4,543.95 L922.5,543.26 L922.6,542.57 L922.7,541.88 L922.7,541.19 L922.8,540.50 L922.9,539.81 L923.0,539.12 L923.1,538.43 L923.2,537.74 L923.3,537.05 L923.4,536.35 L923.5,535.66 L923.6,534.97 L923.6,534.28 L923.7,533.59 L923.8,532.90 L923.9,532.21 L924.0,531.52 L924.1,530.83 L924.2,530.14 L924.3,529.45 L924.4,528.75 L924.5,528.06 L924.5,527.37 L924.6,526.68 L924.7,525.99 L924.8,525.30 L924.9,524.61 L925.0,523.92 L925.1,523.23 L925.2,522.54 L925.3,521.84 L925.4,521.15 L925.4,520.46 L925.5,519.77 L925.6,519.08 L925.7,518.39 L925.8,517.70 L925.9,517.01 L926.0,516.32 L926.1,515.62 L926.2,514.93 L926.3,514.24 L926.4,513.55 L926.4,512.86 L926.5,512.17 L926.6,511.48 L926.7,510.79 L926.8,510.09 L926.9,509.40 L927.0,508.71 L927.1,508.02 L927.2,507.33 L927.3,506.64 L927.4,505.95 L927.4,505.25 L927.5,504.56 L927.6,503.87 L927.7,503.18 L927.8,502.49 L927.9,501.80 L928.0,501.11 L928.1,500.41 L928.2,499.72 L928.3,499.03 L928.4,498.34 L928.5,497.65 L928.6,496.96 L928.6,496.26 L928.7,495.57 L928.8,494.88 L928.9,494.19 L929.0,493.50 L929.1,492.81 L929.2,492.12 L929.3,491.42 L929.4,490.73 L929.5,490.04 L929.6,489.35 L929.7,488.66 L929.8,487.97 L929.9,487.27 L930.0,486.58 L930.0,485.89 L930.1,485.20 L930.2,484.51 L930.3,483.81 L930.4,483.12 L930.5,482.43 L930.6,481.74 L930.7,481.05 L930.8,480.36 L930.9,479.66 L931.0,478.97 L931.1,478.28 L931.2,477.59 L931.3,476.90 L931.4,476.20 L931.5,475.51 L931.6,474.82 L931.7,474.13 L931.8,473.44 L931.9,472.74 L932.0,472.05 L932.1,471.36 L932.2,470.67 L932.3,469.98 L932.3,469.28 L932.4,468.59 L932.5,467.90 L932.6,467.21 L932.7,466.52 L932.8,465.82 L932.9,465.13 L933.0,464.44 L933.1,463.75 L933.2,463.06 L933.3,462.36 L933.4,461.67 L933.5,460.98 L933.6,460.29 L933.7,459.59 L933.8,458.90 L933.9,458.21 L934.0,457.52 L934.1,456.83 L934.2,456.13 L934.3,455.44 L934.4,454.75 L934.5,454.06 L934.6,453.36 L934.7,452.67 L934.9,451.98 L935.0,451.29 L935.1,450.60 L935.2,449.90 L935.3,449.21 L935.4,448.52 L935.5,447.83 L935.6,447.13 L935.7,446.44 L935.8,445.75 L935.9,445.06 L936.0,444.36 L936.1,443.67 L936.2,442.98 L936.3,442.29 L936.4,441.59 L936.5,440.90 L936.6,440.21 L936.7,439.52 L936.8,438.83 L936.9,438.13 L937.1,437.44 L937.2,436.75 L937.3,436.06 L937.4,435.36 L937.5,434.67 L937.6,433.98 L937.7,433.29 L937.8,432.59 L937.9,431.90 L938.0,431.21 L938.1,430.52 L938.3,429.83 L938.4,429.14 L938.5,428.45 L938.6,427.75 L938.7,427.06 L938.8,426.37 L938.9,425.68 L939.0,424.99 L939.1,424.30 L939.3,423.61 L939.4,422.92 L939.5,422.23 L939.6,421.54 L939.7,420.85 L939.8,420.17 L939.9,419.48 L940.1,418.79 L940.2,418.10 L940.3,417.41 L940.4,416.73 L940.5,416.04 L940.6,415.35 L940.8,414.67 L940.9,413.98 L941.0,413.30 L941.1,412.61 L941.2,411.93 L941.4,411.24 L941.5,410.56 L941.6,409.87 L941.7,409.19 L941.8,408.51 L942.0,407.83 L942.1,407.14 L942.2,406.46 L942.3,405.78 L942.5,405.10 L942.6,404.42 L942.7,403.74 L942.8,403.06 L942.9,402.38 L943.1,401.71 L943.2,401.03 L943.3,400.35 L943.5,399.68 L943.6,399.00 L943.7,398.33 L943.8,397.65 L944.0,396.98 L944.1,396.30 L944.2,395.63 L944.3,394.96 L944.5,394.29 L944.6,393.62 L944.7,392.95 L944.9,392.28 L945.0,391.61 L945.1,390.94 L945.3,390.27 L945.4,389.61 L945.5,388.94 L945.7,388.27 L945.8,387.61 L945.9,386.95 L946.1,386.28 L946.2,385.62 L946.3,384.96 L946.5,384.30 L946.6,383.64 L946.8,382.98 L946.9,382.32 L947.0,381.66 L947.2,381.01 L947.3,380.35 L947.5,379.69 L947.6,379.03 L947.7,378.37 L947.9,377.71 L948.0,377.05 L948.2,376.39 L948.3,375.72 L948.4,375.05 L948.6,374.38 L948.7,373.71 L948.9,373.03 L949.0,372.35 L949.1,371.67 L949.3,370.98 L949.4,370.28 L949.6,369.59 L949.7,368.88 L949.8,368.17 L950.0,367.46 L950.1,366.74 L950.2,366.01 L950.4,365.28 L950.5,364.54 L950.6,363.79 L950.8,363.03 L950.9,362.27 L951.0,361.50 L951.2,360.72 L951.3,359.93 L951.4,359.13 L951.5,359.40 L956.6,339.30 L961.2,333.60 L966.9,339.90 L973.2,362.80 L973.2,360.85 L973.3,361.62 L973.4,362.39 L973.5,363.16 L973.6,363.92 L973.7,364.68 L973.8,365.44 L974.0,366.20 L974.1,366.95 L974.2,367.70 L974.3,368.45 L974.4,369.20 L974.4,369.95 L974.5,370.69 L974.6,371.43 L974.7,372.17 L974.8,372.91 L974.9,373.65 L975.0,374.38 L975.1,375.12 L975.2,375.85 L975.3,376.58 L975.4,377.30 L975.5,378.03 L975.6,378.75 L975.6,379.48 L975.7,380.20 L975.8,380.92 L975.9,381.63 L976.0,382.35 L976.1,383.07 L976.1,383.78 L976.2,384.49 L976.3,385.20 L976.4,385.91 L976.5,386.62 L976.5,387.33 L976.6,388.03 L976.7,388.74 L976.8,389.44 L976.8,390.14 L976.9,390.84 L977.0,391.54 L977.1,392.24 L977.1,392.94 L977.2,393.63 L977.3,394.33 L977.3,395.02 L977.4,395.72 L977.5,396.41 L977.6,397.10 L977.6,397.79 L977.7,398.49 L977.8,399.18 L977.8,399.86 L977.9,400.55 L978.0,401.24 L978.0,401.93 L978.1,402.62 L978.2,403.30 L978.2,403.99 L978.3,404.67 L978.4,405.36 L978.4,406.04 L978.5,406.73 L978.6,407.41 L978.6,408.09 L978.7,408.78 L978.7,409.46 L978.8,410.14 L978.9,410.83 L978.9,411.51 L979.0,412.19 L979.1,412.87 L979.1,413.55 L979.2,414.24 L979.2,414.92 L979.3,415.60 L979.4,416.28 L979.4,416.97 L979.5,417.65 L979.6,418.33 L979.6,419.01 L979.7,419.70 L979.7,420.38 L979.8,421.06 L979.9,421.75 L979.9,422.43 L980.0,423.12 L980.0,423.80 L980.1,424.48 L980.2,425.17 L980.2,425.85 L980.3,426.54 L980.3,427.22 L980.4,427.91 L980.5,428.59 L980.5,429.28 L980.6,429.96 L980.6,430.65 L980.7,431.33 L980.8,432.02 L980.8,432.70 L980.9,433.39 L980.9,434.08 L981.0,434.76 L981.1,435.45 L981.1,436.14 L981.2,436.82 L981.2,437.51 L981.3,438.20 L981.4,438.88 L981.4,439.57 L981.5,440.26 L981.5,440.94 L981.6,441.63 L981.6,442.32 L981.7,443.01 L981.8,443.70 L981.8,444.38 L981.9,445.07 L981.9,445.76 L982.0,446.45 L982.1,447.14 L982.1,447.83 L982.2,448.51 L982.2,449.20 L982.3,449.89 L982.3,450.58 L982.4,451.27 L982.5,451.96 L982.5,452.65 L982.6,453.34 L982.6,454.03 L982.7,454.72 L982.8,455.41 L982.8,456.10 L982.9,456.79 L982.9,457.48 L983.0,458.17 L983.0,458.86 L983.1,459.55 L983.2,460.24 L983.2,460.93 L983.3,461.62 L983.3,462.31 L983.4,463.00 L983.4,463.70 L983.5,464.39 L983.5,465.08 L983.6,465.77 L983.7,466.46 L983.7,467.15 L983.8,467.85 L983.8,468.54 L983.9,469.23 L983.9,469.92 L984.0,470.61 L984.1,471.31 L984.1,472.00 L984.2,472.69 L984.2,473.38 L984.3,474.08 L984.3,474.77 L984.4,475.46 L984.4,476.16 L984.5,476.85 L984.5,477.54 L984.6,478.24 L984.7,478.93 L984.7,479.62 L984.8,480.32 L984.8,481.01 L984.9,481.70 L984.9,482.40 L985.0,483.09 L985.0,483.79 L985.1,484.48 L985.2,485.17 L985.2,485.87 L985.3,486.56 L985.3,487.26 L985.4,487.95 L985.4,488.65 L985.5,489.34 L985.5,490.04 L985.6,490.73 L985.6,491.43 L985.7,492.12 L985.7,492.82 L985.8,493.51 L985.9,494.21 L985.9,494.90 L986.0,495.60 L986.0,496.29 L986.1,496.99 L986.1,497.69 L986.2,498.38 L986.2,499.08 L986.3,499.77 L986.3,500.47 L986.4,501.17 L986.4,501.86 L986.5,502.56 L986.5,503.25 L986.6,503.95 L986.7,504.65 L986.7,505.34 L986.8,506.04 L986.8,506.74 L986.9,507.43 L986.9,508.13 L987.0,508.83 L987.0,509.52 L987.1,510.22 L987.1,510.92 L987.2,511.61 L987.2,512.31 L987.3,513.01 L987.3,513.71 L987.4,514.40 L987.4,515.10 L987.5,515.80 L987.5,516.50 L987.6,517.19 L987.6,517.89 L987.7,518.59 L987.8,519.29 L987.8,519.98 L987.9,520.68 L987.9,521.38 L988.0,522.08 L988.0,522.78 L988.1,523.47 L988.1,524.17 L988.2,524.87 L988.2,525.57 L988.3,526.27 L988.3,526.96 L988.4,527.66 L988.4,528.36 L988.5,529.06 L988.5,529.76 L988.6,530.46 L988.6,531.16 L988.7,531.85 L988.7,532.55 L988.8,533.25 L988.8,533.95 L988.9,534.65 L988.9,535.35 L989.0,536.05 L989.0,536.74 L989.1,537.44 L989.1,538.14 L989.2,538.84 L989.2,539.54 L989.3,540.24 L989.3,540.94 L989.4,541.64 L989.4,542.34 L989.5,543.04 L989.5,543.74 L989.6,544.43 L989.6,545.13 L989.7,545.83 L989.7,546.53 L989.8,547.23 L989.8,547.93 L989.9,548.63 L989.9,549.33 L990.0,550.03 L990.0,550.73 L990.1,551.43 L990.1,552.13 L990.2,552.83 L990.2,553.53 L990.3,554.23 L990.3,554.93 L990.4,555.63 L990.4,556.33 L990.5,557.03 L990.5,557.73 L990.6,558.43 L990.6,559.13 L990.7,559.83 L990.7,560.52 L990.8,561.22 L990.8,561.92 L990.9,562.62 L990.9,563.32 L991.0,564.02 L991.0,564.72 L991.1,565.42 L991.1,566.12 L991.1,566.82 L991.2,567.52 L991.2,568.22 L991.3,568.92 L991.3,569.62 L991.4,570.32 L991.4,571.02 L991.5,571.72 L991.5,572.42 L991.6,573.12 L991.6,573.82 L991.7,574.52 L991.7,575.22 L991.8,575.92 L991.8,576.62 L991.9,577.32 L991.9,578.02 L992.0,578.72 L992.0,579.42 L992.1,580.12 L992.1,580.82 L992.2,581.52 L992.2,582.22 L992.2,582.92 L992.3,583.62 L992.3,584.32 L992.4,585.02 L992.4,585.72 L992.5,586.42 L992.5,587.12 L992.6,587.82 L992.6,588.52 L992.7,589.22 L992.7,589.92 L992.8,590.62 L992.8,591.32 L992.9,592.02 L992.9,592.72 L993.0,593.42 L993.0,594.12 L993.1,594.82 L993.1,595.52 L993.1,596.22 L993.2,596.92 L993.2,597.62 L993.3,598.32 L993.3,599.02 L993.4,599.72 L993.4,600.42 L993.5,601.12 L993.5,601.82 L993.6,602.52 L993.6,603.22 L993.7,603.92 L993.7,604.62 L993.7,605.32 L993.8,606.02 L993.8,606.72 L993.9,607.41 L993.9,608.11 L994.0,608.81 L994.0,609.51 L994.1,610.21 L994.1,610.91 L994.2,611.61 L994.2,612.31 L994.3,613.01 L994.3,613.71 L994.3,614.41 L994.4,615.11 L994.4,615.81 L994.5,616.50 L994.5,617.20 L994.6,617.90 L994.6,618.60 L994.7,619.30 L994.7,620.00 L994.8,620.70 L994.8,621.40 L994.9,622.10 L994.9,622.79 L994.9,623.49 L995.0,624.19 L995.0,624.89 L995.1,625.59 L995.1,626.29 L995.2,626.98 L995.2,627.68 L995.3,628.38 L995.3,629.08 L995.4,629.78 L995.4,630.48 L995.4,631.17 L995.5,631.87 L995.5,632.57 L995.6,633.27 L995.6,633.97 L995.7,634.66 L995.7,635.36 L995.8,636.06 L995.8,636.76 L995.8,637.45 L995.9,638.15 L995.9,638.85 L996.0,639.55 L996.0,640.24 L996.1,640.94 L996.1,641.64 L996.2,642.34 L996.2,643.03 L996.3,643.73 L996.3,644.43 L996.3,645.13 L996.4,645.82 L996.4,646.52 L996.5,647.22 L996.5,647.91 L996.6,648.61 L996.6,649.31 L996.7,650.00 L996.7,650.70 L996.7,651.40 L996.8,652.09 L996.8,652.79 L996.9,653.48 L996.9,654.18 L997.0,654.88 L997.0,655.57 L997.1,656.27 L997.1,656.96 L997.1,657.66 L997.2,658.36 L997.2,659.05 L997.3,659.75 L997.3,660.44 L997.4,661.14 L997.4,661.83 L997.5,662.53 L997.5,663.22 L997.5,663.92 L997.6,664.61 L997.6,665.31 L997.7,666.00 L997.7,666.70 L997.8,667.39 L997.8,668.09 L997.8,668.78 L997.9,669.48 L997.9,670.17 L998.0,670.86 L998.0,671.56 L998.1,672.25 L998.1,672.95 L998.2,673.64 L998.2,674.33 L998.2,675.03 L998.3,675.72 L998.3,676.42 L998.4,677.11 L998.4,677.80 L998.5,678.50 L998.5,679.19 L998.6,679.88 L998.6,680.58 L998.6,681.27 L998.7,681.96 L998.7,682.66 L998.8,683.35 L998.8,684.04 L998.9,684.74 L998.9,685.43 L999.0,686.12 L999.0,686.82 L999.0,687.51 L999.1,688.20 L999.1,688.89 L999.2,689.59 L999.2,690.28 L999.3,690.97 L999.3,691.66 L999.4,692.36 L999.4,693.05 L999.5,693.74 L999.5,694.43 L999.5,695.13 L999.6,695.82 L999.6,696.51 L999.7,697.20 L999.7,697.90 L999.8,698.59 L999.8,699.28 L999.9,699.97 L999.9,700.66 L1000.0,701.36 L1000.0,702.05 L1000.1,702.74 L1000.1,703.43 L1000.2,704.12 L1000.2,704.81 L1000.2,705.51 L1000.3,706.20 L1000.3,706.89 L1000.4,707.58 L1000.4,708.27 L1000.5,708.96 L1000.5,709.66 L1000.6,710.35 L1000.6,711.04 L1000.7,711.73 L1000.7,712.42 L1000.8,713.11 L1000.8,713.80 L1000.9,714.50 L1000.9,715.19 L1001.0,715.88 L1001.0,716.57 L1001.1,717.26 L1001.1,717.95 L1001.2,718.64 L1001.2,719.33 L1001.3,720.03 L1001.3,720.72 L1001.4,721.41 L1001.4,722.10 L1001.5,722.79 L1001.5,723.48 L1001.6,724.17 L1001.6,724.86 L1001.7,725.55 L1001.7,726.24 L1001.8,726.94 L1001.8,727.63 L1001.9,728.32 L1001.9,729.01 L1002.0,729.70 L1002.1,730.39 L1002.1,731.08 L1002.2,731.77 L1002.2,732.46 L1002.3,733.15 L1002.3,733.84 L1002.4,734.54 L1002.4,735.23 L1002.5,735.92 L1002.5,736.61 L1002.6,737.30 L1002.7,737.99 L1002.7,738.68 L1002.8,739.37 L1002.8,740.06 L1002.9,740.75 L1002.9,741.44 L1003.0,742.14 L1003.0,742.83 L1003.1,743.52 L1003.2,744.21 L1003.2,744.90 L1003.3,745.59 L1003.3,746.28 L1003.4,746.97 L1003.5,747.66 L1003.5,748.35 L1003.6,749.04 L1003.6,749.74 L1003.7,750.43 L1003.8,751.12 L1003.8,751.81 L1003.9,752.50 L1003.9,753.19 L1004.0,753.88 L1004.1,754.57 L1004.1,755.26 L1004.2,755.96 L1004.3,756.65 L1004.3,757.34 L1004.4,758.03 L1004.4,758.72 L1004.5,759.41 L1004.6,760.10 L1004.6,760.79 L1004.7,761.48 L1004.8,762.18 L1004.8,762.87 L1004.9,763.56 L1005.0,764.25 L1005.0,764.94 L1005.1,765.63 L1005.2,766.32 L1005.2,767.02 L1005.3,767.71 L1005.4,768.40 L1005.4,769.09 L1005.5,769.78 L1005.6,770.47 L1005.6,771.17 L1005.7,771.86 L1005.8,772.55 L1005.8,773.24 L1005.9,773.93 L1006.0,774.62 L1006.1,775.32 L1006.1,776.01 L1006.2,776.70 L1006.3,777.39 L1006.4,778.08 L1006.4,778.78 L1006.5,779.47 L1006.6,780.16 L1006.6,780.85 L1006.7,781.55 L1006.8,782.24 L1006.9,782.93 L1006.9,783.62 L1007.0,784.31 L1007.1,785.01 L1007.2,785.70 L1007.3,786.39 L1007.3,787.09 L1007.4,787.78 L1007.5,788.47 L1007.6,789.16 L1007.6,789.86 L1007.7,790.55 L1007.8,791.24 L1007.9,791.94 L1008.0,792.63 L1008.1,793.32 L1008.1,794.01 L1008.2,794.71 L1008.3,795.40 L1008.4,796.09 L1008.5,796.79 L1008.5,797.48 L1008.6,798.18 L1008.7,798.87 L1008.8,799.56 L1008.9,800.26 L1009.0,800.95 L1009.1,801.64 L1009.1,802.34 L1009.2,803.03 L1009.3,803.73 L1009.4,804.42 L1009.5,805.11 L1009.6,805.81 L1009.7,806.50 L1009.8,807.20 L1009.9,807.89 L1010.0,808.59 L1010.0,809.28 L1010.1,809.98 L1010.2,810.67 L1010.3,811.37 L1010.4,812.06 L1010.5,812.76 L1010.6,813.45 L1010.7,814.15 L1010.8,814.84 L1010.9,815.54 L1011.0,816.23 L1011.1,816.93 L1011.2,817.62 L1011.3,818.32 L1011.4,819.01 L1011.5,819.71 L1011.6,820.41 L1011.7,821.10 L1011.8,821.80 L1011.9,822.49 L1012.0,823.19 L1012.1,823.89 L1012.2,824.58 L1012.3,825.28 L1012.4,825.98 L1012.5,826.67 L1012.6,827.37 L1012.7,828.07 L1012.8,828.76 L1012.9,829.46 L1013.0,830.16 L1013.1,830.86 L1013.2,831.55 L1013.3,832.25 L1013.4,832.95 L1013.6,833.65 L1013.7,834.34 L1013.8,835.04 L1013.9,835.74 L1014.0,836.44 L1014.1,837.14 L1014.2,837.83 L1014.3,838.53 L1014.5,839.23 L1014.6,839.93 L1014.7,840.63 L1014.8,841.33 L1014.9,842.03 L1015.0,842.72 L1015.1,843.42 L1015.3,844.12 L1015.4,844.82 L1015.5,845.52 L1015.6,846.22 L1015.7,846.92 L1015.9,847.62 L1016.0,848.32 L1016.1,849.02 L1016.2,849.72 L1016.3,850.42 L1016.5,851.12 L1016.6,851.82 L1016.7,852.52 L1016.8,853.22 L1017.0,853.92 L1017.1,854.62 L1017.2,855.33 L1017.4,856.03 L1017.5,856.73 L1017.6,857.43 L1017.7,858.13 L1017.9,858.83 L1018.0,859.53 L1018.1,860.24 L1018.3,860.94 L1018.4,861.64 L1018.5,862.34 L1018.7,863.05 L1018.8,863.75 L1018.9,864.45 L1019.1,865.15 L1019.2,865.86 L1019.3,866.56 L1019.5,867.26 L1019.6,867.97 L1019.8,868.67 L1019.9,869.37 L1020.0,870.08 L1020.2,870.78 L1020.3,871.48 L1020.5,872.19 L1020.6,872.89 L1020.8,873.60 L1020.9,874.30 L1021.1,875.01 L1021.2,875.71 L1021.3,876.41 L1021.5,877.11 L1021.7,877.81 L1021.8,878.51 L1022.0,879.21 L1022.1,879.91 L1022.3,880.60 L1022.5,881.30 L1022.6,881.99 L1022.8,882.68 L1023.0,883.36 L1023.1,884.05 L1023.3,884.73 L1023.5,885.41 L1023.7,886.09 L1023.9,886.76 L1024.1,887.43 L1024.3,888.10 L1024.5,888.76 L1024.7,889.42 L1024.9,890.07 L1025.1,890.73 L1025.4,891.37 L1025.6,892.02 L1025.8,892.66 L1026.1,893.29 L1026.3,893.92 L1026.6,894.54 L1026.8,895.16 L1027.1,895.77 L1027.4,896.38 L1027.7,896.98 L1028.0,897.58 L1028.3,898.17 L1028.6,898.76 L1028.9,899.34 L1029.2,899.91 L1029.5,900.47 L1029.8,901.03 L1030.2,901.58 L1030.5,902.13 L1030.9,902.67 L1031.3,903.20 L1031.6,903.72 L1032.0,904.23 L1032.4,904.74 L1032.8,905.24 L1033.2,905.73 L1033.7,906.21 L1034.1,906.69 L1034.5,907.15 L1035.0,907.61 L1035.5,908.06 L1035.9,908.49 L1036.4,908.92 L1036.9,909.34 L1037.4,909.75 L1037.9,910.15 L1038.5,910.54 L1039.0,910.92 L1039.6,911.29 L1040.1,911.65 L1040.7,912.00 L1041.3,912.34 L1041.9,912.67 L1042.5,912.99 L1043.1,913.29 L1043.8,913.59 L1044.4,913.87 L1045.1,914.15 L1045.7,914.42 L1046.4,914.67 L1047.1,914.92 L1047.8,915.16 L1048.5,915.38 L1049.1,915.60 L1049.9,915.81 L1050.6,916.01 L1051.3,916.20 L1052.0,916.39 L1052.7,916.56 L1053.4,916.73 L1054.2,916.89 L1054.9,917.03 L1055.6,917.18 L1056.4,917.31 L1057.1,917.44 L1057.8,917.56 L1058.6,917.67 L1059.3,917.77 L1060.0,917.87 L1060.7,917.96 L1061.5,918.04 L1062.2,918.12 L1062.9,918.19 L1063.6,918.20 L1064.3,918.20 L1065.0,918.20 L1065.8,918.20 L1066.5,918.20 L1067.2,918.20 L1067.9,918.20 L1068.6,918.20 L1069.3,918.20 L1070.0,918.20 L1070.7,918.20 L1071.4,918.20 L1072.1,918.20 L1072.8,918.20 L1073.5,918.20 L1074.2,918.20 L1074.9,918.20 L1075.6,918.20 L1076.2,918.20 L1076.9,918.20 L1077.6,918.20 L1078.3,918.20 L1079.0,918.20 L1079.7,918.20 L1080.4,918.20 L1081.1,918.20 L1081.8,918.20 L1082.4,918.20 L1083.1,918.20 L1083.8,918.20 L1084.5,918.20 L1085.2,918.20 L1085.9,918.20 L1086.6,918.20 L1087.3,918.20 L1087.9,918.20 L1088.6,918.20 L1089.3,918.20 L1090.0,918.18 L1090.7,918.16 L1091.4,918.15 L1092.1,918.14 L1092.8,918.13 L1093.5,918.12 L1094.2,918.12 L1094.9,918.11 L1095.6,918.11 L1096.3,918.10 L1096.9,918.10 L1097.6,918.10 L1098.3,918.10 L1099.0,918.10 L1099.7,918.10 L1100.4,918.10 L1101.1,918.11 L1101.8,918.11 L1102.5,918.11 L1103.2,918.12 L1103.9,918.12 L1104.6,918.12 L1105.3,918.13 L1106.0,918.13 L1106.7,918.14 L1107.4,918.14 L1108.1,918.14 L1108.8,918.15 L1109.5,918.15 L1110.2,918.15 L1110.9,918.16 L1111.6,918.16 L1112.3,918.16 L1113.0,918.16 L1113.7,918.17 L1114.4,918.17 L1115.1,918.17 L1115.8,918.17 L1116.5,918.18 L1117.2,918.18 L1117.9,918.18 L1118.6,918.18 L1119.3,918.19 L1120.0,918.19 L1120.7,918.19 L1121.4,918.19 L1122.1,918.19 L1122.8,918.20 L1123.5,918.20 L1124.2,918.20 L1124.9,918.20 L1125.6,918.20 L1126.3,918.20 L1127.0,918.20 L1127.7,918.20 L1128.4,918.20 L1129.1,918.20 L1129.7,918.20 L1130.4,918.20 L1131.1,918.20 L1131.8,918.20 L1132.5,918.20 L1133.2,918.20 L1133.9,918.20 L1134.6,918.20 L1135.3,918.20 L1136.0,918.20 L1136.7,918.20 L1137.4,918.20 L1138.1,918.20 L1138.8,918.20 L1139.5,918.20 L1140.2,918.20 L1140.9,918.20 L1141.6,918.20 L1142.3,918.20 L1143.0,918.20 L1143.7,918.20 L1144.4,918.20 L1145.1,918.20 L1145.8,918.20 L1146.5,918.20 L1147.2,918.20 L1147.9,918.20 L1148.6,918.20 L1149.3,918.20 L1150.0,918.20 L1150.7,918.20 L1151.4,918.20 L1152.1,918.20 L1152.8,918.20 L1153.5,918.20 L1154.2,918.20 L1154.9,918.20 L1155.6,918.20 L1156.3,918.20 L1157.0,918.20 L1157.7,918.20 L1158.4,918.20 L1159.1,918.20 L1159.8,918.20 L1160.5,918.20 L1161.2,918.20 L1161.9,918.20 L1162.5,918.20 L1163.2,918.20 L1163.9,918.20 L1164.6,918.20 L1165.3,918.20 L1166.0,918.20 L1166.7,918.20 L1167.4,918.20 L1168.1,918.20 L1168.8,918.20 L1169.5,918.20 L1170.2,918.20 L1170.9,918.20 L1171.6,918.20 L1172.3,918.20 L1173.0,918.20 L1173.7,918.20 L1174.4,918.20 L1175.1,918.20 L1175.8,918.20 L1176.5,918.20 L1177.2,918.20 L1177.9,918.20 L1178.6,918.20 L1179.3,918.20 L1180.0,918.20 L1180.7,918.20 L1181.4,918.20 L1182.1,918.20 L1182.8,918.20 L1183.5,918.20 L1184.2,918.20 L1184.9,918.20 L1185.6,918.20 L1186.3,918.20 L1187.0,918.20 L1187.7,918.20 L1188.4,918.19 L1189.1,918.19 L1189.8,918.19 L1190.5,918.19 L1191.2,918.19 L1191.9,918.19 L1192.6,918.19 L1193.2,918.19 L1193.9,918.19 L1194.6,918.19 L1195.3,918.19 L1196.0,918.19 L1196.7,918.19 L1197.4,918.19 L1198.1,918.19 L1198.8,918.18 L1199.5,918.18 L1200.2,918.18 L1200.9,918.18 L1201.6,918.18 L1202.3,918.18 L1203.0,918.18 L1203.7,918.18 L1204.4,918.18 L1205.1,918.18 L1205.8,918.18 L1206.5,918.18 L1207.2,918.18 L1207.9,918.18 L1208.6,918.18 L1209.3,918.18 L1210.0,918.18 L1210.7,918.18 L1211.4,918.18 L1212.1,918.18 L1212.8,918.18 L1213.5,918.18 L1214.2,918.18 L1214.9,918.18 L1215.6,918.18 L1216.3,918.18 L1217.0,918.18 L1217.7,918.18 L1218.4,918.18 L1219.1,918.18 L1219.8,918.18 L1220.5,918.18 L1221.2,918.18 L1221.9,918.18 L1222.6,918.18 L1223.3,918.19 L1224.0,918.19 L1224.6,918.19 L1225.3,918.19 L1226.0,918.19 L1226.7,918.19 L1227.4,918.19 L1228.1,918.19 L1228.8,918.19 L1229.5,918.19 L1230.2,918.20 L1230.9,918.20 L1231.6,918.20 L1232.3,918.20 L1233.0,918.20 L1233.7,918.20 L1234.4,918.20 L1235.1,918.20 L1235.8,918.20 L1236.5,918.20 L1237.2,918.20 L1237.9,918.20 L1238.6,918.20 L1239.3,918.20 L1240.0,918.20" fill="none" stroke="#0000E0" stroke-width="3.4" stroke-linejoin="round"/>
<path d="M90.0,918.20 L91.7,918.20 L93.3,918.20 L95.0,918.20 L96.7,918.20 L98.3,918.20 L100.0,918.20 L101.7,918.20 L103.3,918.20 L105.0,918.20 L106.6,918.20 L108.3,918.20 L110.0,918.20 L111.6,918.20 L113.3,918.20 L114.9,918.20 L116.6,918.20 L118.3,918.20 L119.9,918.20 L121.6,918.20 L123.3,918.20 L124.9,918.20 L126.6,918.20 L128.2,918.20 L129.9,918.20 L131.6,918.20 L133.2,918.20 L134.9,918.20 L136.5,918.20 L138.2,918.20 L139.9,918.20 L141.5,918.20 L143.2,918.19 L144.9,918.19 L146.5,918.19 L148.2,918.19 L149.8,918.19 L151.5,918.18 L153.2,918.18 L154.8,918.18 L156.5,918.18 L158.1,918.18 L159.8,918.18 L161.5,918.17 L163.1,918.17 L164.8,918.17 L166.5,918.17 L168.1,918.17 L169.8,918.17 L171.4,918.16 L173.1,918.16 L174.8,918.16 L176.4,918.16 L178.1,918.16 L179.7,918.16 L181.4,918.16 L183.1,918.16 L184.7,918.16 L186.4,918.15 L188.1,918.15 L189.7,918.15 L191.4,918.15 L193.0,918.15 L194.7,918.15 L196.4,918.15 L198.0,918.15 L199.7,918.15 L201.4,918.15 L203.0,918.15 L204.7,918.15 L206.3,918.15 L208.0,918.15 L209.7,918.15 L211.3,918.14 L213.0,918.14 L214.6,918.14 L216.3,918.14 L218.0,918.14 L219.6,918.14 L221.3,918.14 L223.0,918.14 L224.6,918.14 L226.3,918.14 L227.9,918.14 L229.6,918.14 L231.3,918.14 L232.9,918.14 L234.6,918.14 L236.3,918.14 L237.9,918.14 L239.6,918.14 L241.2,918.14 L242.9,918.14 L244.6,918.14 L246.2,918.14 L247.9,918.14 L249.6,918.14 L251.2,918.15 L252.9,918.15 L254.5,918.15 L256.2,918.15 L257.9,918.15 L259.5,918.15 L261.2,918.15 L262.9,918.15 L264.5,918.15 L266.2,918.15 L267.8,918.15 L269.5,918.15 L271.2,918.15 L272.8,918.15 L274.5,918.15 L276.2,918.15 L277.8,918.15 L279.5,918.15 L281.1,918.16 L282.8,918.16 L284.5,918.16 L286.1,918.16 L287.8,918.16 L289.5,918.16 L291.1,918.16 L292.8,918.16 L294.4,918.16 L296.1,918.16 L297.8,918.16 L299.4,918.17 L301.1,918.17 L302.8,918.17 L304.4,918.17 L306.1,918.17 L307.7,918.17 L309.4,918.17 L311.1,918.17 L312.7,918.17 L314.4,918.17 L316.1,918.18 L317.7,918.18 L319.4,918.18 L321.0,918.18 L322.7,918.18 L324.4,918.18 L326.0,918.18 L327.7,918.18 L329.4,918.18 L331.0,918.19 L332.7,918.19 L334.3,918.19 L336.0,918.19 L337.7,918.19 L339.3,918.19 L341.0,918.19 L342.7,918.19 L344.3,918.20 L346.0,918.20 L347.6,918.20 L349.3,918.20 L351.0,918.20 L352.6,918.20 L354.3,918.20 L356.0,918.20 L357.6,918.20 L359.3,918.20 L360.9,918.20 L362.6,918.20 L364.3,918.20 L365.9,918.20 L367.6,918.20 L369.3,918.20 L370.9,918.20 L372.6,918.20 L374.2,918.20 L375.9,918.20 L377.6,918.20 L379.2,918.20 L380.9,918.20 L382.6,918.20 L384.2,918.20 L385.9,918.20 L387.5,918.20 L389.2,918.20 L390.9,918.20 L392.5,918.20 L394.2,918.20 L395.9,918.20 L397.5,918.20 L399.2,918.20 L400.8,918.20 L402.5,918.20 L404.2,918.20 L405.8,918.20 L407.5,918.20 L409.2,918.20 L410.8,918.20 L412.5,918.20 L414.1,918.20 L415.8,918.20 L417.5,918.20 L419.1,918.20 L420.8,918.20 L422.5,918.20 L424.1,918.20 L425.8,918.20 L427.4,918.20 L429.1,918.20 L430.8,918.20 L432.4,918.20 L434.1,918.20 L435.8,918.20 L437.4,918.20 L439.1,918.20 L440.7,918.20 L442.4,918.20 L444.1,918.20 L445.7,918.20 L447.4,918.20 L449.1,918.20 L450.7,918.20 L452.4,918.20 L454.0,918.20 L455.7,918.20 L457.4,918.20 L459.0,918.20 L460.7,918.20 L462.4,918.20 L464.0,918.20 L465.7,918.20 L467.3,918.20 L469.0,918.20 L470.7,918.20 L472.3,918.20 L474.0,918.20 L475.7,918.20 L477.3,918.20 L479.0,918.20 L480.6,918.20 L482.3,918.20 L484.0,918.20 L485.6,918.20 L487.3,918.20 L488.9,918.20 L490.6,918.20 L492.3,918.20 L493.9,918.20 L495.6,918.20 L497.3,918.20 L498.9,918.20 L500.6,918.20 L502.2,918.20 L503.9,918.20 L505.6,918.20 L507.2,918.20 L508.9,918.20 L510.6,918.20 L512.2,918.20 L513.9,918.20 L515.5,918.20 L517.2,918.20 L518.9,918.20 L520.5,918.20 L522.2,918.20 L523.9,918.20 L525.5,918.20 L527.2,918.20 L528.8,918.20 L530.5,918.20 L532.2,918.20 L533.8,918.20 L535.5,918.20 L537.2,918.20 L538.8,918.20 L540.5,918.20 L542.1,918.20 L543.8,918.20 L545.5,918.20 L547.1,918.20 L548.8,918.20 L550.4,918.20 L552.1,918.20 L553.8,918.20 L555.4,918.20 L557.1,918.20 L558.8,918.20 L560.4,918.20 L562.1,918.20 L563.7,918.20 L565.4,918.20 L567.1,918.20 L568.7,918.20 L570.4,918.20 L572.1,918.20 L573.7,918.20 L575.4,918.20 L577.0,918.20 L578.7,918.20 L580.4,918.20 L582.0,918.20 L583.7,918.20 L585.3,918.20 L587.0,918.20 L588.7,918.20 L590.3,918.20 L592.0,918.20 L593.7,918.20 L595.3,918.20 L597.0,918.20 L598.6,918.20 L600.3,918.20 L602.0,918.20 L603.6,918.20 L605.3,918.20 L606.9,918.20 L608.6,918.20 L610.3,918.19 L611.9,918.19 L613.6,918.19 L615.3,918.19 L616.9,918.18 L618.6,918.18 L620.2,918.18 L621.9,918.17 L623.6,918.17 L625.2,918.17 L626.9,918.16 L628.5,918.16 L630.2,918.16 L631.9,918.15 L633.5,918.15 L635.2,918.15 L636.8,918.14 L638.5,918.14 L640.2,918.13 L641.8,918.13 L643.5,918.13 L645.2,918.12 L646.8,918.12 L648.5,918.11 L650.1,918.11 L651.8,918.10 L653.5,918.10 L655.1,918.10 L656.8,918.09 L658.4,918.09 L660.1,918.08 L661.8,918.08 L663.4,918.07 L665.1,918.07 L666.7,918.06 L668.4,918.06 L670.1,918.06 L671.7,918.05 L673.4,918.05 L675.0,918.04 L676.7,918.04 L678.4,918.03 L680.0,918.03 L681.7,918.03 L683.4,918.02 L685.0,918.02 L686.7,918.01 L688.3,918.01 L690.0,918.01 L691.7,918.00 L693.3,918.00 L695.0,918.00 L696.6,917.99 L698.3,917.99 L700.0,917.99 L701.6,917.99 L703.3,917.99 L705.0,917.98 L706.6,917.98 L708.3,917.98 L709.9,917.98 L711.6,917.98 L713.3,917.98 L714.9,917.98 L716.6,917.98 L718.2,917.98 L719.9,917.98 L721.6,917.98 L723.2,917.98 L724.9,917.98 L726.6,917.98 L728.2,917.98 L729.9,917.99 L731.5,917.99 L733.2,917.99 L734.9,918.00 L736.5,918.00 L738.2,918.00 L739.9,918.01 L741.5,918.01 L743.2,918.02 L744.9,918.02 L746.5,918.03 L748.2,918.04 L749.8,918.04 L751.5,918.05 L753.2,918.06 L754.8,918.07 L756.5,918.08 L758.2,918.09 L759.8,918.10 L761.5,918.11 L763.2,918.12 L764.8,918.13 L766.5,918.14 L768.2,918.15 L769.8,918.17 L771.5,918.18 L773.2,918.19 L774.8,918.20 L776.5,918.20 L778.2,918.20 L779.8,918.20 L781.5,918.20 L783.2,918.20 L784.8,918.20 L786.5,918.20 L788.2,918.20 L789.8,918.20 L791.5,918.20 L793.2,918.20 L794.8,918.20 L796.5,918.20 L798.2,918.20 L799.8,918.20 L801.5,918.20 L803.2,918.20 L804.8,918.20 L806.5,918.20 L808.2,918.20 L809.8,918.20 L811.5,918.20 L813.2,918.20 L814.8,918.20 L816.5,918.20 L818.2,918.20 L819.8,918.20 L821.5,918.20 L823.2,918.20 L824.8,918.20 L826.5,918.20 L828.2,918.20 L829.8,918.20 L831.5,918.20 L833.2,918.20 L834.8,918.20 L836.5,918.20 L838.2,918.20 L839.8,918.20 L841.5,918.20 L843.2,918.20 L844.8,918.20 L846.5,918.20 L848.1,918.20 L849.8,918.20 L851.5,918.20 L853.1,918.20 L854.8,918.20 L856.4,918.16 L858.1,918.08 L859.7,918.00 L861.4,917.92 L863.1,917.83 L864.7,917.74 L866.4,917.63 L868.0,917.53 L869.7,917.41 L871.3,917.29 L873.0,917.16 L874.6,917.03 L876.3,916.89 L877.9,916.74 L879.6,916.59 L881.2,916.43 L882.8,916.26 L884.5,916.08 L886.1,915.89 L887.8,915.70 L889.4,915.50 L891.1,915.29 L892.7,915.07 L894.3,914.85 L896.0,914.61 L897.6,914.37 L899.2,914.12 L900.9,913.86 L902.5,913.59 L904.1,913.31 L905.7,913.03 L907.4,912.73 L909.0,912.43 L910.6,912.11 L912.2,911.79 L913.9,911.46 L915.5,911.12 L917.1,910.77 L918.7,910.41 L920.3,910.04 L921.9,909.66 L923.5,909.27 L925.2,908.87 L926.8,908.46 L928.4,908.04 L930.0,907.61 L931.6,907.17 L933.2,906.72 L934.8,906.26 L936.4,905.79 L938.0,905.31 L939.6,904.82 L941.1,904.32 L942.7,903.81 L944.3,903.28 L945.9,902.75 L947.5,902.20 L949.1,901.65 L950.6,901.08 L952.2,900.50 L953.8,899.92 L955.4,899.31 L956.9,898.70 L958.5,898.08 L960.0,897.45 L961.6,896.80 L963.2,896.14 L964.7,895.47 L966.3,894.79 L967.8,894.10 L969.4,893.40 L970.9,892.70 L972.5,892.00 L974.0,891.30 L975.6,890.61 L977.1,889.92 L978.6,889.25 L980.2,888.59 L981.7,887.95 L983.3,887.33 L984.8,886.73 L986.4,886.16 L987.9,885.62 L989.5,885.11 L991.0,884.63 L992.6,884.20 L994.2,883.80 L995.7,883.45 L997.3,883.15 L998.9,882.89 L1000.4,882.69 L1002.0,882.55 L1003.6,882.46 L1005.2,882.41 L1006.8,882.42 L1008.4,882.48 L1010.0,882.58 L1011.6,882.73 L1013.2,882.91 L1014.8,883.14 L1016.4,883.40 L1018.0,883.70 L1019.6,884.03 L1021.2,884.40 L1022.8,884.79 L1024.4,885.21 L1026.0,885.65 L1027.6,886.12 L1029.2,886.61 L1030.7,887.12 L1032.3,887.65 L1033.9,888.19 L1035.5,888.75 L1037.0,889.33 L1038.6,889.92 L1040.1,890.52 L1041.7,891.13 L1043.2,891.76 L1044.8,892.40 L1046.3,893.04 L1047.9,893.70 L1049.4,894.36 L1051.0,895.03 L1052.5,895.71 L1054.0,896.39 L1055.6,897.08 L1057.1,897.77 L1058.6,898.46 L1060.2,899.15 L1061.7,899.84 L1063.2,900.54 L1064.8,901.23 L1066.3,901.92 L1067.8,902.60 L1069.4,903.28 L1070.9,903.96 L1072.4,904.63 L1074.0,905.30 L1075.5,905.95 L1077.1,906.60 L1078.6,907.24 L1080.1,907.86 L1081.7,908.48 L1083.2,909.08 L1084.8,909.67 L1086.3,910.24 L1087.9,910.80 L1089.5,911.35 L1091.0,911.87 L1092.6,912.38 L1094.2,912.87 L1095.8,913.34 L1097.3,913.79 L1098.9,914.22 L1100.5,914.62 L1102.1,915.00 L1103.7,915.36 L1105.3,915.70 L1106.9,916.02 L1108.5,916.31 L1110.2,916.59 L1111.8,916.84 L1113.4,917.08 L1115.1,917.30 L1116.7,917.50 L1118.3,917.68 L1120.0,917.85 L1121.6,918.00 L1123.3,918.13 L1124.9,918.20 L1126.6,918.20 L1128.2,918.20 L1129.9,918.20 L1131.6,918.20 L1133.2,918.20 L1134.9,918.20 L1136.6,918.20 L1138.2,918.20 L1139.9,918.20 L1141.6,918.20 L1143.3,918.20 L1144.9,918.20 L1146.6,918.20 L1148.3,918.20 L1150.0,918.20 L1151.7,918.20 L1153.4,918.20 L1155.0,918.20 L1156.7,918.20 L1158.4,918.20 L1160.1,918.20 L1161.8,918.20 L1163.5,918.20 L1165.2,918.19 L1166.8,918.12 L1168.5,918.06 L1170.2,918.00 L1171.9,917.94 L1173.6,917.88 L1175.3,917.83 L1176.9,917.77 L1178.6,917.73 L1180.3,917.68 L1182.0,917.64 L1183.6,917.61 L1185.3,917.58 L1187.0,917.56 L1188.6,917.55 L1190.3,917.54 L1192.0,917.54 L1193.6,917.56 L1195.3,917.58 L1196.9,917.61 L1198.6,917.65 L1200.2,917.70 L1201.9,917.75 L1203.5,917.81 L1205.2,917.88 L1206.8,917.94 L1208.5,918.01 L1210.1,918.08 L1211.8,918.15 L1213.4,918.20 L1215.0,918.20 L1216.7,918.20 L1218.3,918.20 L1220.0,918.20 L1221.6,918.20 L1223.3,918.20 L1224.9,918.20 L1226.6,918.20 L1228.3,918.20 L1229.9,918.20 L1231.6,918.20 L1233.3,918.20 L1234.9,918.20 L1236.6,918.20 L1238.3,918.20 L1240.0,918.20" fill="none" stroke="#E67A1E" stroke-width="3.4" stroke-linecap="round"/>
<g stroke="#000" stroke-width="3.6" fill="none">
<rect x="89.6" y="1.8" width="1159.8" height="934.5"/>
<path d="M379.5,1.8V19.6M669.5,1.8V19.6M959.5,1.8V19.6M379.5,936.3V918.5M669.5,936.3V918.5M959.5,936.3V918.5"/>
</g>
<g stroke="#000" stroke-width="2.7" fill="none"><path d="M1051.3,255.2L980,318.5"/><path d="M1078.9,677.6L961,797.8"/></g>
<g fill="#000" stroke="#000" stroke-width="0.8" stroke-linejoin="miter"><path d="M968.8,329.4L977.9,314.9L984.4,322.1Z"/><path d="M949.5,809.4L957.9,793.9L964.8,800.8Z"/></g>
<g font-family='"Liberation Sans", sans-serif' fill="#000">
<text x="365.9" y="100" font-size="45">Raman Spectrum</text>
<text x="280" y="155.5" font-size="45">Quantum wells: Si<tspan font-size="25.8" dy="15.7">1-x</tspan><tspan dy="-15.7" dx="-0.8">Ge</tspan><tspan font-size="25.8" dy="15.7">x</tspan><tspan dy="-15.7" dx="-1.2">/Si</tspan></text>
<text x="345.5" y="215.4" font-size="44.65">15 periods, x = 0.53</text>
<text x="346.9" y="269.9" font-size="44.85">5 nm well thickness</text>
<text x="1007.1" y="244.6" font-size="45">SiGe mode</text>
<text x="1092.8" y="673.75" font-size="45">Ge NC</text>
<g font-size="37.4" text-anchor="middle">
<text x="90.5" y="984.6">150</text><text x="378.6" y="984.6">200</text><text x="669.6" y="984.6">250</text><text x="959.5" y="984.6">300</text><text x="1249.8" y="984.6">350</text>
</g>
<text x="482" y="1033.5" font-size="45">Raman Shift (cm<tspan font-size="22.5" dy="-26">-1</tspan><tspan dy="26" dx="5">)</tspan></text>
<text transform="translate(38.2,737.5) rotate(-90)" font-size="44.75">Intensity (arbitrary units)</text>
</g>
</svg></body></html>
